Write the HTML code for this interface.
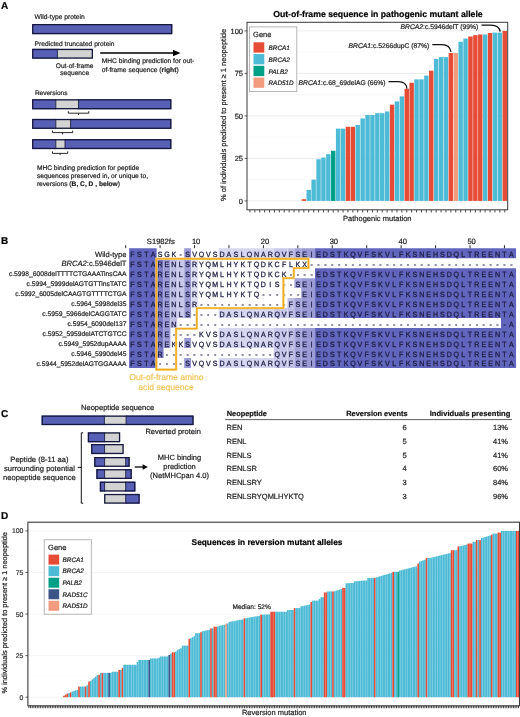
<!DOCTYPE html>
<html lang="en"><head><meta charset="utf-8"><title>Figure</title>
<style>
html,body{margin:0;padding:0;background:#fff}
body{width:520px;height:717px;overflow:hidden}
svg{display:block;text-rendering:geometricPrecision;font-family:"Liberation Sans",sans-serif;fill:#222}
svg rect,svg path,svg line{fill-opacity:1}
</style></head><body>
<svg width="520" height="717" viewBox="0 0 520 717">
<rect x="0" y="0" width="520" height="717" fill="#fff"/>
<text x="1.00" y="9.00" font-size="10" font-weight="bold" fill="#000" stroke="#000" stroke-width="0.2">A</text>
<text x="34.60" y="19.20" font-size="6.68" stroke="#222" stroke-width="0.2">Wild-type protein</text>
<rect x="32.10" y="24.00" width="140.20" height="10.20" fill="#5860b6"/>
<rect x="32.75" y="24.65" width="138.90" height="8.90" fill="none" stroke="#15183c" stroke-width="1.3"/>
<text x="34.60" y="45.80" font-size="6.66" stroke="#222" stroke-width="0.2">Predicted truncated protein</text>
<rect x="32.10" y="48.80" width="25.30" height="9.90" fill="#5860b6"/>
<rect x="57.40" y="48.80" width="35.60" height="9.90" fill="#d3d3d3"/>
<line x1="57.40" y1="48.80" x2="57.40" y2="58.70" stroke="#15183c" stroke-width="0.9"/>
<rect x="32.75" y="49.45" width="59.60" height="8.60" fill="none" stroke="#15183c" stroke-width="1.3"/>
<text x="74.60" y="67.60" font-size="6.65" text-anchor="middle" stroke="#222" stroke-width="0.2">Out-of-frame</text>
<text x="74.70" y="75.30" font-size="6.65" text-anchor="middle" stroke="#222" stroke-width="0.2">sequence</text>
<path d="M100.2 53 H175" stroke="#000" stroke-width="1.4" fill="none"/>
<path d="M180.5 53 L173 49.8 L173 56.2 Z" fill="#000"/>
<text x="101.70" y="63.40" font-size="6.7" stroke="#222" stroke-width="0.2">MHC binding prediction for out-</text>
<text x="101.70" y="71.90" font-size="6.7" stroke="#222" stroke-width="0.2">of-frame sequence (<tspan font-weight="bold">right</tspan>)</text>
<text x="34.90" y="94.80" font-size="6.5" stroke="#222" stroke-width="0.2">Reversions</text>
<rect x="32.10" y="99.20" width="23.70" height="10.10" fill="#5860b6"/>
<rect x="55.80" y="99.20" width="22.70" height="10.10" fill="#d3d3d3"/>
<rect x="78.50" y="99.20" width="92.90" height="10.10" fill="#5860b6"/>
<line x1="55.80" y1="99.20" x2="55.80" y2="109.30" stroke="#15183c" stroke-width="0.9"/>
<line x1="78.50" y1="99.20" x2="78.50" y2="109.30" stroke="#15183c" stroke-width="0.9"/>
<rect x="32.75" y="99.85" width="138.00" height="8.80" fill="none" stroke="#15183c" stroke-width="1.3"/>
<path d="M68.30 111.20 v2.00 H88.80 v-2.00 M78.55 113.20 v1.8" fill="none" stroke="#111" stroke-width="0.9"/>
<rect x="32.10" y="118.90" width="23.70" height="10.00" fill="#5860b6"/>
<rect x="55.80" y="118.90" width="14.80" height="10.00" fill="#d3d3d3"/>
<rect x="70.60" y="118.90" width="100.80" height="10.00" fill="#5860b6"/>
<line x1="55.80" y1="118.90" x2="55.80" y2="128.90" stroke="#15183c" stroke-width="0.9"/>
<line x1="70.60" y1="118.90" x2="70.60" y2="128.90" stroke="#15183c" stroke-width="0.9"/>
<rect x="32.75" y="119.55" width="138.00" height="8.70" fill="none" stroke="#15183c" stroke-width="1.3"/>
<path d="M52.50 130.60 v2.00 H72.70 v-2.00 M62.60 132.60 v1.8" fill="none" stroke="#111" stroke-width="0.9"/>
<rect x="32.10" y="139.10" width="23.70" height="10.00" fill="#5860b6"/>
<rect x="55.80" y="139.10" width="9.20" height="10.00" fill="#d3d3d3"/>
<rect x="65.00" y="139.10" width="106.40" height="10.00" fill="#5860b6"/>
<line x1="55.80" y1="139.10" x2="55.80" y2="149.10" stroke="#15183c" stroke-width="0.9"/>
<line x1="65.00" y1="139.10" x2="65.00" y2="149.10" stroke="#15183c" stroke-width="0.9"/>
<rect x="32.75" y="139.75" width="138.00" height="8.70" fill="none" stroke="#15183c" stroke-width="1.3"/>
<path d="M52.50 151.40 v2.00 H67.70 v-2.00 M60.10 153.40 v1.8" fill="none" stroke="#111" stroke-width="0.9"/>
<text x="36.90" y="170.00" font-size="6.65" stroke="#222" stroke-width="0.2">MHC binding prediction for peptide</text>
<text x="36.90" y="178.10" font-size="6.65" stroke="#222" stroke-width="0.2">sequences preserved in, or unique to,</text>
<text x="36.90" y="186.00" font-size="6.65" stroke="#222" stroke-width="0.2">reversions (<tspan font-weight="bold">B, C, D , below</tspan>)</text>
<rect x="247.00" y="22.30" width="260.70" height="187.50" fill="#fff"/>
<line x1="247.0" x2="507.7" y1="179.65" y2="179.65" stroke="#f2f2f2" stroke-width="0.5"/>
<line x1="247.0" x2="507.7" y1="137.15" y2="137.15" stroke="#f2f2f2" stroke-width="0.5"/>
<line x1="247.0" x2="507.7" y1="94.65" y2="94.65" stroke="#f2f2f2" stroke-width="0.5"/>
<line x1="247.0" x2="507.7" y1="52.15" y2="52.15" stroke="#f2f2f2" stroke-width="0.5"/>
<line x1="247.0" x2="507.7" y1="200.90" y2="200.90" stroke="#e6e6e6" stroke-width="0.8"/>
<line x1="247.0" x2="507.7" y1="158.40" y2="158.40" stroke="#e6e6e6" stroke-width="0.8"/>
<line x1="247.0" x2="507.7" y1="115.90" y2="115.90" stroke="#e6e6e6" stroke-width="0.8"/>
<line x1="247.0" x2="507.7" y1="73.40" y2="73.40" stroke="#e6e6e6" stroke-width="0.8"/>
<line x1="247.0" x2="507.7" y1="30.90" y2="30.90" stroke="#e6e6e6" stroke-width="0.8"/>
<line x1="249.94" x2="249.94" y1="209.8" y2="212.5" stroke="#222" stroke-width="0.8"/>
<line x1="254.84" x2="254.84" y1="209.8" y2="212.5" stroke="#222" stroke-width="0.8"/>
<line x1="259.74" x2="259.74" y1="209.8" y2="212.5" stroke="#222" stroke-width="0.8"/>
<line x1="264.64" x2="264.64" y1="209.8" y2="212.5" stroke="#222" stroke-width="0.8"/>
<line x1="269.54" x2="269.54" y1="209.8" y2="212.5" stroke="#222" stroke-width="0.8"/>
<line x1="274.44" x2="274.44" y1="209.8" y2="212.5" stroke="#222" stroke-width="0.8"/>
<line x1="279.34" x2="279.34" y1="209.8" y2="212.5" stroke="#222" stroke-width="0.8"/>
<line x1="284.24" x2="284.24" y1="209.8" y2="212.5" stroke="#222" stroke-width="0.8"/>
<line x1="289.14" x2="289.14" y1="209.8" y2="212.5" stroke="#222" stroke-width="0.8"/>
<line x1="294.04" x2="294.04" y1="209.8" y2="212.5" stroke="#222" stroke-width="0.8"/>
<line x1="298.94" x2="298.94" y1="209.8" y2="212.5" stroke="#222" stroke-width="0.8"/>
<line x1="303.84" x2="303.84" y1="209.8" y2="212.5" stroke="#222" stroke-width="0.8"/>
<rect x="301.64" y="199.20" width="4.41" height="1.70" fill="#E64B35"/>
<line x1="308.74" x2="308.74" y1="209.8" y2="212.5" stroke="#222" stroke-width="0.8"/>
<rect x="306.54" y="189.85" width="4.41" height="11.05" fill="#4DBBD5"/>
<line x1="313.65" x2="313.65" y1="209.8" y2="212.5" stroke="#222" stroke-width="0.8"/>
<rect x="311.44" y="179.65" width="4.41" height="21.25" fill="#4DBBD5"/>
<line x1="318.55" x2="318.55" y1="209.8" y2="212.5" stroke="#222" stroke-width="0.8"/>
<rect x="316.34" y="159.25" width="4.41" height="41.65" fill="#4DBBD5"/>
<line x1="323.45" x2="323.45" y1="209.8" y2="212.5" stroke="#222" stroke-width="0.8"/>
<rect x="321.24" y="157.55" width="4.41" height="43.35" fill="#4DBBD5"/>
<line x1="328.35" x2="328.35" y1="209.8" y2="212.5" stroke="#222" stroke-width="0.8"/>
<rect x="326.14" y="154.15" width="4.41" height="46.75" fill="#4DBBD5"/>
<line x1="333.25" x2="333.25" y1="209.8" y2="212.5" stroke="#222" stroke-width="0.8"/>
<rect x="331.04" y="150.75" width="4.41" height="50.15" fill="#00A087"/>
<line x1="338.15" x2="338.15" y1="209.8" y2="212.5" stroke="#222" stroke-width="0.8"/>
<rect x="335.94" y="128.65" width="4.41" height="72.25" fill="#4DBBD5"/>
<line x1="343.05" x2="343.05" y1="209.8" y2="212.5" stroke="#222" stroke-width="0.8"/>
<rect x="340.84" y="128.65" width="4.41" height="72.25" fill="#4DBBD5"/>
<line x1="347.95" x2="347.95" y1="209.8" y2="212.5" stroke="#222" stroke-width="0.8"/>
<rect x="345.74" y="126.78" width="4.41" height="74.12" fill="#E64B35"/>
<line x1="352.85" x2="352.85" y1="209.8" y2="212.5" stroke="#222" stroke-width="0.8"/>
<rect x="350.64" y="126.78" width="4.41" height="74.12" fill="#E64B35"/>
<line x1="357.75" x2="357.75" y1="209.8" y2="212.5" stroke="#222" stroke-width="0.8"/>
<rect x="355.54" y="124.91" width="4.41" height="75.99" fill="#4DBBD5"/>
<line x1="362.65" x2="362.65" y1="209.8" y2="212.5" stroke="#222" stroke-width="0.8"/>
<rect x="360.44" y="118.45" width="4.41" height="82.45" fill="#4DBBD5"/>
<line x1="367.55" x2="367.55" y1="209.8" y2="212.5" stroke="#222" stroke-width="0.8"/>
<rect x="365.34" y="115.05" width="4.41" height="85.85" fill="#4DBBD5"/>
<line x1="372.45" x2="372.45" y1="209.8" y2="212.5" stroke="#222" stroke-width="0.8"/>
<rect x="370.24" y="115.05" width="4.41" height="85.85" fill="#4DBBD5"/>
<line x1="377.35" x2="377.35" y1="209.8" y2="212.5" stroke="#222" stroke-width="0.8"/>
<rect x="375.14" y="113.18" width="4.41" height="87.72" fill="#4DBBD5"/>
<line x1="382.25" x2="382.25" y1="209.8" y2="212.5" stroke="#222" stroke-width="0.8"/>
<rect x="380.05" y="113.18" width="4.41" height="87.72" fill="#4DBBD5"/>
<line x1="387.15" x2="387.15" y1="209.8" y2="212.5" stroke="#222" stroke-width="0.8"/>
<rect x="384.95" y="111.48" width="4.41" height="89.42" fill="#4DBBD5"/>
<line x1="392.05" x2="392.05" y1="209.8" y2="212.5" stroke="#222" stroke-width="0.8"/>
<rect x="389.85" y="104.68" width="4.41" height="96.22" fill="#E64B35"/>
<line x1="396.95" x2="396.95" y1="209.8" y2="212.5" stroke="#222" stroke-width="0.8"/>
<rect x="394.75" y="101.45" width="4.41" height="99.45" fill="#4DBBD5"/>
<line x1="401.85" x2="401.85" y1="209.8" y2="212.5" stroke="#222" stroke-width="0.8"/>
<rect x="399.65" y="96.35" width="4.41" height="104.55" fill="#4DBBD5"/>
<line x1="406.75" x2="406.75" y1="209.8" y2="212.5" stroke="#222" stroke-width="0.8"/>
<rect x="404.55" y="88.70" width="4.41" height="112.20" fill="#E64B35"/>
<line x1="411.65" x2="411.65" y1="209.8" y2="212.5" stroke="#222" stroke-width="0.8"/>
<rect x="409.45" y="82.75" width="4.41" height="118.15" fill="#E64B35"/>
<line x1="416.55" x2="416.55" y1="209.8" y2="212.5" stroke="#222" stroke-width="0.8"/>
<rect x="414.35" y="79.35" width="4.41" height="121.55" fill="#4DBBD5"/>
<line x1="421.45" x2="421.45" y1="209.8" y2="212.5" stroke="#222" stroke-width="0.8"/>
<rect x="419.25" y="79.35" width="4.41" height="121.55" fill="#4DBBD5"/>
<line x1="426.35" x2="426.35" y1="209.8" y2="212.5" stroke="#222" stroke-width="0.8"/>
<rect x="424.15" y="75.61" width="4.41" height="125.29" fill="#4DBBD5"/>
<line x1="431.25" x2="431.25" y1="209.8" y2="212.5" stroke="#222" stroke-width="0.8"/>
<rect x="429.05" y="70.68" width="4.41" height="130.22" fill="#E64B35"/>
<line x1="436.15" x2="436.15" y1="209.8" y2="212.5" stroke="#222" stroke-width="0.8"/>
<rect x="433.95" y="58.95" width="4.41" height="141.95" fill="#4DBBD5"/>
<line x1="441.05" x2="441.05" y1="209.8" y2="212.5" stroke="#222" stroke-width="0.8"/>
<rect x="438.85" y="57.08" width="4.41" height="143.82" fill="#4DBBD5"/>
<line x1="445.96" x2="445.96" y1="209.8" y2="212.5" stroke="#222" stroke-width="0.8"/>
<rect x="443.75" y="57.08" width="4.41" height="143.82" fill="#4DBBD5"/>
<line x1="450.86" x2="450.86" y1="209.8" y2="212.5" stroke="#222" stroke-width="0.8"/>
<rect x="448.65" y="53.00" width="4.41" height="147.90" fill="#E64B35"/>
<line x1="455.76" x2="455.76" y1="209.8" y2="212.5" stroke="#222" stroke-width="0.8"/>
<rect x="453.55" y="53.00" width="4.41" height="147.90" fill="#F39B7F"/>
<line x1="460.66" x2="460.66" y1="209.8" y2="212.5" stroke="#222" stroke-width="0.8"/>
<rect x="458.45" y="41.78" width="4.41" height="159.12" fill="#4DBBD5"/>
<line x1="465.56" x2="465.56" y1="209.8" y2="212.5" stroke="#222" stroke-width="0.8"/>
<rect x="463.35" y="38.55" width="4.41" height="162.35" fill="#4DBBD5"/>
<line x1="470.46" x2="470.46" y1="209.8" y2="212.5" stroke="#222" stroke-width="0.8"/>
<rect x="468.25" y="36.51" width="4.41" height="164.39" fill="#E64B35"/>
<line x1="475.36" x2="475.36" y1="209.8" y2="212.5" stroke="#222" stroke-width="0.8"/>
<rect x="473.15" y="35.15" width="4.41" height="165.75" fill="#E64B35"/>
<line x1="480.26" x2="480.26" y1="209.8" y2="212.5" stroke="#222" stroke-width="0.8"/>
<rect x="478.05" y="34.47" width="4.41" height="166.43" fill="#E64B35"/>
<line x1="485.16" x2="485.16" y1="209.8" y2="212.5" stroke="#222" stroke-width="0.8"/>
<rect x="482.95" y="34.47" width="4.41" height="166.43" fill="#4DBBD5"/>
<line x1="490.06" x2="490.06" y1="209.8" y2="212.5" stroke="#222" stroke-width="0.8"/>
<rect x="487.85" y="32.94" width="4.41" height="167.96" fill="#E64B35"/>
<line x1="494.96" x2="494.96" y1="209.8" y2="212.5" stroke="#222" stroke-width="0.8"/>
<rect x="492.75" y="32.60" width="4.41" height="168.30" fill="#4DBBD5"/>
<line x1="499.86" x2="499.86" y1="209.8" y2="212.5" stroke="#222" stroke-width="0.8"/>
<rect x="497.65" y="32.60" width="4.41" height="168.30" fill="#4DBBD5"/>
<line x1="504.76" x2="504.76" y1="209.8" y2="212.5" stroke="#222" stroke-width="0.8"/>
<rect x="502.55" y="30.90" width="4.41" height="170.00" fill="#E64B35"/>
<rect x="247.00" y="22.30" width="260.70" height="187.50" fill="none" stroke="#383838" stroke-width="1.0"/>
<line x1="244.6" x2="247.0" y1="200.90" y2="200.90" stroke="#333" stroke-width="0.8"/>
<text x="243.00" y="203.60" font-size="7.5" text-anchor="end" stroke="#222" stroke-width="0.2">0</text>
<line x1="244.6" x2="247.0" y1="158.40" y2="158.40" stroke="#333" stroke-width="0.8"/>
<text x="243.00" y="161.10" font-size="7.5" text-anchor="end" stroke="#222" stroke-width="0.2">25</text>
<line x1="244.6" x2="247.0" y1="115.90" y2="115.90" stroke="#333" stroke-width="0.8"/>
<text x="243.00" y="118.60" font-size="7.5" text-anchor="end" stroke="#222" stroke-width="0.2">50</text>
<line x1="244.6" x2="247.0" y1="73.40" y2="73.40" stroke="#333" stroke-width="0.8"/>
<text x="243.00" y="76.10" font-size="7.5" text-anchor="end" stroke="#222" stroke-width="0.2">75</text>
<line x1="244.6" x2="247.0" y1="30.90" y2="30.90" stroke="#333" stroke-width="0.8"/>
<text x="243.00" y="33.60" font-size="7.5" text-anchor="end" stroke="#222" stroke-width="0.2">100</text>
<text x="377.90" y="16.60" font-size="8.7" text-anchor="middle" font-weight="bold" fill="#000" stroke="#000" stroke-width="0.2">Out-of-frame sequence in pathogenic mutant allele</text>
<text x="377.30" y="220.60" font-size="7.5" text-anchor="middle" stroke="#222" stroke-width="0.2">Pathogenic mutation</text>
<text transform="translate(226.4 114.9) rotate(-90)" text-anchor="middle" font-size="7.5" stroke="#222" stroke-width="0.2">% of individuals predicted to present ≥ 1 neopeptide</text>
<rect x="249.50" y="26.90" width="47.30" height="64.70" fill="#fff" stroke="#a6a6a6" stroke-width="0.8"/>
<text x="253.10" y="37.20" font-size="7.5" stroke="#222" stroke-width="0.2">Gene</text>
<rect x="253.50" y="42.30" width="10.80" height="10.30" fill="#E64B35"/>
<text x="268.50" y="50.00" font-size="6.4" font-style="italic" stroke="#222" stroke-width="0.2">BRCA1</text>
<rect x="253.50" y="54.05" width="10.80" height="10.30" fill="#4DBBD5"/>
<text x="268.50" y="61.75" font-size="6.4" font-style="italic" stroke="#222" stroke-width="0.2">BRCA2</text>
<rect x="253.50" y="65.80" width="10.80" height="10.30" fill="#00A087"/>
<text x="268.50" y="73.50" font-size="6.4" font-style="italic" stroke="#222" stroke-width="0.2">PALB2</text>
<rect x="253.50" y="77.55" width="10.80" height="10.30" fill="#F39B7F"/>
<text x="268.50" y="85.25" font-size="6.4" font-style="italic" stroke="#222" stroke-width="0.2">RAD51D</text>
<text x="298.50" y="84.80" font-size="6.75" stroke="#222" stroke-width="0.2"><tspan font-style="italic">BRCA1</tspan>:c.68_69delAG (66%)</text>
<path d="M388.5 81.6 H398.5 Q406.3 81.6 407 88.6" fill="none" stroke="#111" stroke-width="1.25"/>
<text x="348.60" y="48.00" font-size="6.75" stroke="#222" stroke-width="0.2"><tspan font-style="italic">BRCA1</tspan>:c.5266dupC (87%)</text>
<path d="M432.3 44.6 H442 Q450 44.6 451 52" fill="none" stroke="#111" stroke-width="1.25"/>
<text x="400.60" y="28.90" font-size="6.75" stroke="#222" stroke-width="0.2"><tspan font-style="italic">BRCA2</tspan>:c.5946delT (99%)</text>
<path d="M481.5 25 H491 Q499.2 25 500.2 31.6" fill="none" stroke="#111" stroke-width="1.25"/>
<text x="1.00" y="244.40" font-size="10" font-weight="bold" fill="#000" stroke="#000" stroke-width="0.2">B</text>
<path d="M129.10 248.20h6.887v9.98h-6.887zM129.10 258.18h6.887v9.98h-6.887zM129.10 268.16h6.887v9.98h-6.887zM129.10 278.14h6.887v9.98h-6.887zM129.10 288.12h6.887v9.98h-6.887zM129.10 298.10h6.887v9.98h-6.887zM129.10 308.08h6.887v9.98h-6.887zM129.10 318.06h6.887v9.98h-6.887zM129.10 328.04h6.887v9.98h-6.887zM129.10 338.02h6.887v9.98h-6.887zM129.10 348.00h6.887v9.98h-6.887zM129.10 357.98h6.887v9.98h-6.887zM135.99 248.20h6.887v9.98h-6.887zM135.99 258.18h6.887v9.98h-6.887zM135.99 268.16h6.887v9.98h-6.887zM135.99 278.14h6.887v9.98h-6.887zM135.99 288.12h6.887v9.98h-6.887zM135.99 298.10h6.887v9.98h-6.887zM135.99 308.08h6.887v9.98h-6.887zM135.99 318.06h6.887v9.98h-6.887zM135.99 328.04h6.887v9.98h-6.887zM135.99 338.02h6.887v9.98h-6.887zM135.99 348.00h6.887v9.98h-6.887zM135.99 357.98h6.887v9.98h-6.887zM142.87 248.20h6.887v9.98h-6.887zM142.87 258.18h6.887v9.98h-6.887zM142.87 268.16h6.887v9.98h-6.887zM142.87 278.14h6.887v9.98h-6.887zM142.87 288.12h6.887v9.98h-6.887zM142.87 298.10h6.887v9.98h-6.887zM142.87 308.08h6.887v9.98h-6.887zM142.87 318.06h6.887v9.98h-6.887zM142.87 328.04h6.887v9.98h-6.887zM142.87 338.02h6.887v9.98h-6.887zM142.87 348.00h6.887v9.98h-6.887zM142.87 357.98h6.887v9.98h-6.887zM149.76 248.20h6.887v9.98h-6.887zM149.76 258.18h6.887v9.98h-6.887zM149.76 268.16h6.887v9.98h-6.887zM149.76 278.14h6.887v9.98h-6.887zM149.76 288.12h6.887v9.98h-6.887zM149.76 298.10h6.887v9.98h-6.887zM149.76 308.08h6.887v9.98h-6.887zM149.76 318.06h6.887v9.98h-6.887zM149.76 328.04h6.887v9.98h-6.887zM149.76 338.02h6.887v9.98h-6.887zM149.76 348.00h6.887v9.98h-6.887zM149.76 357.98h6.887v9.98h-6.887zM315.05 248.20h6.887v9.98h-6.887zM315.05 268.16h6.887v9.98h-6.887zM315.05 278.14h6.887v9.98h-6.887zM315.05 288.12h6.887v9.98h-6.887zM315.05 298.10h6.887v9.98h-6.887zM315.05 308.08h6.887v9.98h-6.887zM315.05 328.04h6.887v9.98h-6.887zM315.05 338.02h6.887v9.98h-6.887zM315.05 348.00h6.887v9.98h-6.887zM315.05 357.98h6.887v9.98h-6.887zM321.94 248.20h6.887v9.98h-6.887zM321.94 268.16h6.887v9.98h-6.887zM321.94 278.14h6.887v9.98h-6.887zM321.94 288.12h6.887v9.98h-6.887zM321.94 298.10h6.887v9.98h-6.887zM321.94 308.08h6.887v9.98h-6.887zM321.94 328.04h6.887v9.98h-6.887zM321.94 338.02h6.887v9.98h-6.887zM321.94 348.00h6.887v9.98h-6.887zM321.94 357.98h6.887v9.98h-6.887zM328.82 248.20h6.887v9.98h-6.887zM328.82 268.16h6.887v9.98h-6.887zM328.82 278.14h6.887v9.98h-6.887zM328.82 288.12h6.887v9.98h-6.887zM328.82 298.10h6.887v9.98h-6.887zM328.82 308.08h6.887v9.98h-6.887zM328.82 328.04h6.887v9.98h-6.887zM328.82 338.02h6.887v9.98h-6.887zM328.82 348.00h6.887v9.98h-6.887zM328.82 357.98h6.887v9.98h-6.887zM335.71 248.20h6.887v9.98h-6.887zM335.71 268.16h6.887v9.98h-6.887zM335.71 278.14h6.887v9.98h-6.887zM335.71 288.12h6.887v9.98h-6.887zM335.71 298.10h6.887v9.98h-6.887zM335.71 308.08h6.887v9.98h-6.887zM335.71 328.04h6.887v9.98h-6.887zM335.71 338.02h6.887v9.98h-6.887zM335.71 348.00h6.887v9.98h-6.887zM335.71 357.98h6.887v9.98h-6.887zM342.60 248.20h6.887v9.98h-6.887zM342.60 268.16h6.887v9.98h-6.887zM342.60 278.14h6.887v9.98h-6.887zM342.60 288.12h6.887v9.98h-6.887zM342.60 298.10h6.887v9.98h-6.887zM342.60 308.08h6.887v9.98h-6.887zM342.60 328.04h6.887v9.98h-6.887zM342.60 338.02h6.887v9.98h-6.887zM342.60 348.00h6.887v9.98h-6.887zM342.60 357.98h6.887v9.98h-6.887zM349.48 248.20h6.887v9.98h-6.887zM349.48 268.16h6.887v9.98h-6.887zM349.48 278.14h6.887v9.98h-6.887zM349.48 288.12h6.887v9.98h-6.887zM349.48 298.10h6.887v9.98h-6.887zM349.48 308.08h6.887v9.98h-6.887zM349.48 328.04h6.887v9.98h-6.887zM349.48 338.02h6.887v9.98h-6.887zM349.48 348.00h6.887v9.98h-6.887zM349.48 357.98h6.887v9.98h-6.887zM356.37 248.20h6.887v9.98h-6.887zM356.37 268.16h6.887v9.98h-6.887zM356.37 278.14h6.887v9.98h-6.887zM356.37 288.12h6.887v9.98h-6.887zM356.37 298.10h6.887v9.98h-6.887zM356.37 308.08h6.887v9.98h-6.887zM356.37 328.04h6.887v9.98h-6.887zM356.37 338.02h6.887v9.98h-6.887zM356.37 348.00h6.887v9.98h-6.887zM356.37 357.98h6.887v9.98h-6.887zM363.26 248.20h6.887v9.98h-6.887zM363.26 268.16h6.887v9.98h-6.887zM363.26 278.14h6.887v9.98h-6.887zM363.26 288.12h6.887v9.98h-6.887zM363.26 298.10h6.887v9.98h-6.887zM363.26 308.08h6.887v9.98h-6.887zM363.26 328.04h6.887v9.98h-6.887zM363.26 338.02h6.887v9.98h-6.887zM363.26 348.00h6.887v9.98h-6.887zM363.26 357.98h6.887v9.98h-6.887zM370.14 248.20h6.887v9.98h-6.887zM370.14 268.16h6.887v9.98h-6.887zM370.14 278.14h6.887v9.98h-6.887zM370.14 288.12h6.887v9.98h-6.887zM370.14 298.10h6.887v9.98h-6.887zM370.14 308.08h6.887v9.98h-6.887zM370.14 328.04h6.887v9.98h-6.887zM370.14 338.02h6.887v9.98h-6.887zM370.14 348.00h6.887v9.98h-6.887zM370.14 357.98h6.887v9.98h-6.887zM377.03 248.20h6.887v9.98h-6.887zM377.03 268.16h6.887v9.98h-6.887zM377.03 278.14h6.887v9.98h-6.887zM377.03 288.12h6.887v9.98h-6.887zM377.03 298.10h6.887v9.98h-6.887zM377.03 308.08h6.887v9.98h-6.887zM377.03 328.04h6.887v9.98h-6.887zM377.03 338.02h6.887v9.98h-6.887zM377.03 348.00h6.887v9.98h-6.887zM377.03 357.98h6.887v9.98h-6.887zM383.92 248.20h6.887v9.98h-6.887zM383.92 268.16h6.887v9.98h-6.887zM383.92 278.14h6.887v9.98h-6.887zM383.92 288.12h6.887v9.98h-6.887zM383.92 298.10h6.887v9.98h-6.887zM383.92 308.08h6.887v9.98h-6.887zM383.92 328.04h6.887v9.98h-6.887zM383.92 338.02h6.887v9.98h-6.887zM383.92 348.00h6.887v9.98h-6.887zM383.92 357.98h6.887v9.98h-6.887zM390.81 248.20h6.887v9.98h-6.887zM390.81 268.16h6.887v9.98h-6.887zM390.81 278.14h6.887v9.98h-6.887zM390.81 288.12h6.887v9.98h-6.887zM390.81 298.10h6.887v9.98h-6.887zM390.81 308.08h6.887v9.98h-6.887zM390.81 328.04h6.887v9.98h-6.887zM390.81 338.02h6.887v9.98h-6.887zM390.81 348.00h6.887v9.98h-6.887zM390.81 357.98h6.887v9.98h-6.887zM397.69 248.20h6.887v9.98h-6.887zM397.69 268.16h6.887v9.98h-6.887zM397.69 278.14h6.887v9.98h-6.887zM397.69 288.12h6.887v9.98h-6.887zM397.69 298.10h6.887v9.98h-6.887zM397.69 308.08h6.887v9.98h-6.887zM397.69 328.04h6.887v9.98h-6.887zM397.69 338.02h6.887v9.98h-6.887zM397.69 348.00h6.887v9.98h-6.887zM397.69 357.98h6.887v9.98h-6.887zM404.58 248.20h6.887v9.98h-6.887zM404.58 268.16h6.887v9.98h-6.887zM404.58 278.14h6.887v9.98h-6.887zM404.58 288.12h6.887v9.98h-6.887zM404.58 298.10h6.887v9.98h-6.887zM404.58 308.08h6.887v9.98h-6.887zM404.58 328.04h6.887v9.98h-6.887zM404.58 338.02h6.887v9.98h-6.887zM404.58 348.00h6.887v9.98h-6.887zM404.58 357.98h6.887v9.98h-6.887zM411.47 248.20h6.887v9.98h-6.887zM411.47 268.16h6.887v9.98h-6.887zM411.47 278.14h6.887v9.98h-6.887zM411.47 288.12h6.887v9.98h-6.887zM411.47 298.10h6.887v9.98h-6.887zM411.47 308.08h6.887v9.98h-6.887zM411.47 328.04h6.887v9.98h-6.887zM411.47 338.02h6.887v9.98h-6.887zM411.47 348.00h6.887v9.98h-6.887zM411.47 357.98h6.887v9.98h-6.887zM418.35 248.20h6.887v9.98h-6.887zM418.35 268.16h6.887v9.98h-6.887zM418.35 278.14h6.887v9.98h-6.887zM418.35 288.12h6.887v9.98h-6.887zM418.35 298.10h6.887v9.98h-6.887zM418.35 308.08h6.887v9.98h-6.887zM418.35 328.04h6.887v9.98h-6.887zM418.35 338.02h6.887v9.98h-6.887zM418.35 348.00h6.887v9.98h-6.887zM418.35 357.98h6.887v9.98h-6.887zM425.24 248.20h6.887v9.98h-6.887zM425.24 268.16h6.887v9.98h-6.887zM425.24 278.14h6.887v9.98h-6.887zM425.24 288.12h6.887v9.98h-6.887zM425.24 298.10h6.887v9.98h-6.887zM425.24 308.08h6.887v9.98h-6.887zM425.24 328.04h6.887v9.98h-6.887zM425.24 338.02h6.887v9.98h-6.887zM425.24 348.00h6.887v9.98h-6.887zM425.24 357.98h6.887v9.98h-6.887zM432.13 248.20h6.887v9.98h-6.887zM432.13 268.16h6.887v9.98h-6.887zM432.13 278.14h6.887v9.98h-6.887zM432.13 288.12h6.887v9.98h-6.887zM432.13 298.10h6.887v9.98h-6.887zM432.13 308.08h6.887v9.98h-6.887zM432.13 328.04h6.887v9.98h-6.887zM432.13 338.02h6.887v9.98h-6.887zM432.13 348.00h6.887v9.98h-6.887zM432.13 357.98h6.887v9.98h-6.887zM439.01 248.20h6.887v9.98h-6.887zM439.01 268.16h6.887v9.98h-6.887zM439.01 278.14h6.887v9.98h-6.887zM439.01 288.12h6.887v9.98h-6.887zM439.01 298.10h6.887v9.98h-6.887zM439.01 308.08h6.887v9.98h-6.887zM439.01 328.04h6.887v9.98h-6.887zM439.01 338.02h6.887v9.98h-6.887zM439.01 348.00h6.887v9.98h-6.887zM439.01 357.98h6.887v9.98h-6.887zM445.90 248.20h6.887v9.98h-6.887zM445.90 268.16h6.887v9.98h-6.887zM445.90 278.14h6.887v9.98h-6.887zM445.90 288.12h6.887v9.98h-6.887zM445.90 298.10h6.887v9.98h-6.887zM445.90 308.08h6.887v9.98h-6.887zM445.90 328.04h6.887v9.98h-6.887zM445.90 338.02h6.887v9.98h-6.887zM445.90 348.00h6.887v9.98h-6.887zM445.90 357.98h6.887v9.98h-6.887zM452.79 248.20h6.887v9.98h-6.887zM452.79 268.16h6.887v9.98h-6.887zM452.79 278.14h6.887v9.98h-6.887zM452.79 288.12h6.887v9.98h-6.887zM452.79 298.10h6.887v9.98h-6.887zM452.79 308.08h6.887v9.98h-6.887zM452.79 328.04h6.887v9.98h-6.887zM452.79 338.02h6.887v9.98h-6.887zM452.79 348.00h6.887v9.98h-6.887zM452.79 357.98h6.887v9.98h-6.887zM459.68 248.20h6.887v9.98h-6.887zM459.68 268.16h6.887v9.98h-6.887zM459.68 278.14h6.887v9.98h-6.887zM459.68 288.12h6.887v9.98h-6.887zM459.68 298.10h6.887v9.98h-6.887zM459.68 308.08h6.887v9.98h-6.887zM459.68 328.04h6.887v9.98h-6.887zM459.68 338.02h6.887v9.98h-6.887zM459.68 348.00h6.887v9.98h-6.887zM459.68 357.98h6.887v9.98h-6.887zM466.56 248.20h6.887v9.98h-6.887zM466.56 268.16h6.887v9.98h-6.887zM466.56 278.14h6.887v9.98h-6.887zM466.56 288.12h6.887v9.98h-6.887zM466.56 298.10h6.887v9.98h-6.887zM466.56 308.08h6.887v9.98h-6.887zM466.56 328.04h6.887v9.98h-6.887zM466.56 338.02h6.887v9.98h-6.887zM466.56 348.00h6.887v9.98h-6.887zM466.56 357.98h6.887v9.98h-6.887zM473.45 248.20h6.887v9.98h-6.887zM473.45 268.16h6.887v9.98h-6.887zM473.45 278.14h6.887v9.98h-6.887zM473.45 288.12h6.887v9.98h-6.887zM473.45 298.10h6.887v9.98h-6.887zM473.45 308.08h6.887v9.98h-6.887zM473.45 328.04h6.887v9.98h-6.887zM473.45 338.02h6.887v9.98h-6.887zM473.45 348.00h6.887v9.98h-6.887zM473.45 357.98h6.887v9.98h-6.887zM480.34 248.20h6.887v9.98h-6.887zM480.34 268.16h6.887v9.98h-6.887zM480.34 278.14h6.887v9.98h-6.887zM480.34 288.12h6.887v9.98h-6.887zM480.34 298.10h6.887v9.98h-6.887zM480.34 308.08h6.887v9.98h-6.887zM480.34 328.04h6.887v9.98h-6.887zM480.34 338.02h6.887v9.98h-6.887zM480.34 348.00h6.887v9.98h-6.887zM480.34 357.98h6.887v9.98h-6.887zM487.22 248.20h6.887v9.98h-6.887zM487.22 268.16h6.887v9.98h-6.887zM487.22 278.14h6.887v9.98h-6.887zM487.22 288.12h6.887v9.98h-6.887zM487.22 298.10h6.887v9.98h-6.887zM487.22 308.08h6.887v9.98h-6.887zM487.22 328.04h6.887v9.98h-6.887zM487.22 338.02h6.887v9.98h-6.887zM487.22 348.00h6.887v9.98h-6.887zM487.22 357.98h6.887v9.98h-6.887zM494.11 248.20h6.887v9.98h-6.887zM494.11 268.16h6.887v9.98h-6.887zM494.11 278.14h6.887v9.98h-6.887zM494.11 288.12h6.887v9.98h-6.887zM494.11 298.10h6.887v9.98h-6.887zM494.11 308.08h6.887v9.98h-6.887zM494.11 328.04h6.887v9.98h-6.887zM494.11 338.02h6.887v9.98h-6.887zM494.11 348.00h6.887v9.98h-6.887zM494.11 357.98h6.887v9.98h-6.887zM501.00 248.20h6.887v9.98h-6.887zM501.00 268.16h6.887v9.98h-6.887zM501.00 278.14h6.887v9.98h-6.887zM501.00 288.12h6.887v9.98h-6.887zM501.00 298.10h6.887v9.98h-6.887zM501.00 308.08h6.887v9.98h-6.887zM501.00 328.04h6.887v9.98h-6.887zM501.00 338.02h6.887v9.98h-6.887zM501.00 348.00h6.887v9.98h-6.887zM501.00 357.98h6.887v9.98h-6.887zM507.88 248.20h8.187v9.98h-8.187zM507.88 268.16h8.187v9.98h-8.187zM507.88 278.14h8.187v9.98h-8.187zM507.88 288.12h8.187v9.98h-8.187zM507.88 298.10h8.187v9.98h-8.187zM507.88 308.08h8.187v9.98h-8.187zM507.88 318.06h8.187v9.98h-8.187zM501.00 318.06h6.887v9.98h-6.887zM507.88 328.04h8.187v9.98h-8.187zM507.88 338.02h8.187v9.98h-8.187zM507.88 348.00h8.187v9.98h-8.187zM507.88 357.98h8.187v9.98h-8.187z" fill="#6165bd"/>
<path d="M156.65 258.18h6.887v9.98h-6.887zM156.65 268.16h6.887v9.98h-6.887zM156.65 278.14h6.887v9.98h-6.887zM156.65 288.12h6.887v9.98h-6.887zM156.65 298.10h6.887v9.98h-6.887zM156.65 308.08h6.887v9.98h-6.887zM156.65 318.06h6.887v9.98h-6.887zM156.65 328.04h6.887v9.98h-6.887zM156.65 338.02h6.887v9.98h-6.887zM156.65 348.00h6.887v9.98h-6.887z" fill="#7a7ac6"/>
<path d="M163.53 258.18h6.887v9.98h-6.887zM163.53 268.16h6.887v9.98h-6.887zM163.53 278.14h6.887v9.98h-6.887zM163.53 288.12h6.887v9.98h-6.887zM163.53 298.10h6.887v9.98h-6.887zM163.53 308.08h6.887v9.98h-6.887zM163.53 318.06h6.887v9.98h-6.887zM163.53 328.04h6.887v9.98h-6.887zM163.53 338.02h6.887v9.98h-6.887zM184.20 248.20h6.887v9.98h-6.887zM184.20 258.18h6.887v9.98h-6.887zM184.20 268.16h6.887v9.98h-6.887zM184.20 278.14h6.887v9.98h-6.887zM184.20 288.12h6.887v9.98h-6.887zM184.20 298.10h6.887v9.98h-6.887zM184.20 308.08h6.887v9.98h-6.887zM184.20 338.02h6.887v9.98h-6.887zM184.20 357.98h6.887v9.98h-6.887zM301.27 248.20h6.887v9.98h-6.887zM301.27 278.14h6.887v9.98h-6.887zM301.27 288.12h6.887v9.98h-6.887zM301.27 298.10h6.887v9.98h-6.887zM301.27 308.08h6.887v9.98h-6.887zM301.27 328.04h6.887v9.98h-6.887zM301.27 338.02h6.887v9.98h-6.887zM301.27 348.00h6.887v9.98h-6.887zM301.27 357.98h6.887v9.98h-6.887zM308.16 248.20h6.887v9.98h-6.887zM308.16 278.14h6.887v9.98h-6.887zM308.16 288.12h6.887v9.98h-6.887zM308.16 298.10h6.887v9.98h-6.887zM308.16 308.08h6.887v9.98h-6.887zM308.16 328.04h6.887v9.98h-6.887zM308.16 338.02h6.887v9.98h-6.887zM308.16 348.00h6.887v9.98h-6.887zM308.16 357.98h6.887v9.98h-6.887z" fill="#9a9ad4"/>
<path d="M170.42 258.18h6.887v9.98h-6.887zM170.42 268.16h6.887v9.98h-6.887zM170.42 278.14h6.887v9.98h-6.887zM170.42 288.12h6.887v9.98h-6.887zM170.42 298.10h6.887v9.98h-6.887zM170.42 308.08h6.887v9.98h-6.887zM170.42 318.06h6.887v9.98h-6.887zM287.50 248.20h6.887v9.98h-6.887zM287.50 298.10h6.887v9.98h-6.887zM287.50 308.08h6.887v9.98h-6.887zM287.50 328.04h6.887v9.98h-6.887zM287.50 338.02h6.887v9.98h-6.887zM287.50 348.00h6.887v9.98h-6.887zM287.50 357.98h6.887v9.98h-6.887z" fill="#bfbfe6"/>
<path d="M177.31 258.18h6.887v9.98h-6.887zM177.31 268.16h6.887v9.98h-6.887zM177.31 278.14h6.887v9.98h-6.887zM177.31 288.12h6.887v9.98h-6.887zM177.31 298.10h6.887v9.98h-6.887zM177.31 308.08h6.887v9.98h-6.887zM273.73 248.20h6.887v9.98h-6.887zM273.73 308.08h6.887v9.98h-6.887zM273.73 328.04h6.887v9.98h-6.887zM273.73 338.02h6.887v9.98h-6.887zM273.73 348.00h6.887v9.98h-6.887zM273.73 357.98h6.887v9.98h-6.887zM280.61 248.20h6.887v9.98h-6.887zM280.61 308.08h6.887v9.98h-6.887zM280.61 328.04h6.887v9.98h-6.887zM280.61 338.02h6.887v9.98h-6.887zM280.61 348.00h6.887v9.98h-6.887zM280.61 357.98h6.887v9.98h-6.887z" fill="#c8c8ea"/>
<path d="M191.08 258.18h6.887v9.98h-6.887zM191.08 268.16h6.887v9.98h-6.887zM191.08 278.14h6.887v9.98h-6.887zM191.08 288.12h6.887v9.98h-6.887zM191.08 298.10h6.887v9.98h-6.887z" fill="#e0e0f4"/>
<path d="M218.63 248.20h6.887v9.98h-6.887zM218.63 308.08h6.887v9.98h-6.887zM218.63 328.04h6.887v9.98h-6.887zM218.63 338.02h6.887v9.98h-6.887zM218.63 357.98h6.887v9.98h-6.887zM225.52 248.20h6.887v9.98h-6.887zM225.52 308.08h6.887v9.98h-6.887zM225.52 328.04h6.887v9.98h-6.887zM225.52 338.02h6.887v9.98h-6.887zM225.52 357.98h6.887v9.98h-6.887zM232.40 248.20h6.887v9.98h-6.887zM232.40 308.08h6.887v9.98h-6.887zM232.40 328.04h6.887v9.98h-6.887zM232.40 338.02h6.887v9.98h-6.887zM232.40 357.98h6.887v9.98h-6.887zM239.29 248.20h6.887v9.98h-6.887zM239.29 308.08h6.887v9.98h-6.887zM239.29 328.04h6.887v9.98h-6.887zM239.29 338.02h6.887v9.98h-6.887zM239.29 357.98h6.887v9.98h-6.887zM246.18 248.20h6.887v9.98h-6.887zM246.18 308.08h6.887v9.98h-6.887zM246.18 328.04h6.887v9.98h-6.887zM246.18 338.02h6.887v9.98h-6.887zM246.18 357.98h6.887v9.98h-6.887zM253.07 248.20h6.887v9.98h-6.887zM253.07 308.08h6.887v9.98h-6.887zM253.07 328.04h6.887v9.98h-6.887zM253.07 338.02h6.887v9.98h-6.887zM253.07 357.98h6.887v9.98h-6.887zM259.95 248.20h6.887v9.98h-6.887zM259.95 308.08h6.887v9.98h-6.887zM259.95 328.04h6.887v9.98h-6.887zM259.95 338.02h6.887v9.98h-6.887zM259.95 357.98h6.887v9.98h-6.887zM266.84 248.20h6.887v9.98h-6.887zM266.84 308.08h6.887v9.98h-6.887zM266.84 328.04h6.887v9.98h-6.887zM266.84 338.02h6.887v9.98h-6.887zM266.84 357.98h6.887v9.98h-6.887z" fill="#d6d6f0"/>
<path d="M294.39 248.20h6.887v9.98h-6.887zM294.39 278.14h6.887v9.98h-6.887zM294.39 298.10h6.887v9.98h-6.887zM294.39 308.08h6.887v9.98h-6.887zM294.39 328.04h6.887v9.98h-6.887zM294.39 338.02h6.887v9.98h-6.887zM294.39 348.00h6.887v9.98h-6.887zM294.39 357.98h6.887v9.98h-6.887z" fill="#a4a4d9"/>
<g font-size="7.6" text-anchor="middle" fill="#1e1e44" stroke="#1e1e44" stroke-width="0.3" transform="scale(0.93 1)">
<text x="142.52 149.93 157.33 164.74 172.14 179.55 186.95 194.36 201.76 209.17 216.57 223.98 231.38 238.79 246.20 253.60 261.01 268.41 275.82 283.22 290.63 298.03 305.44 312.84 320.25 327.65 335.06 342.47 349.87 357.28 364.68 372.09 379.49 386.90 394.30 401.71 409.11 416.52 423.92 431.33 438.73 446.14 453.55 460.95 468.36 475.76 483.17 490.57 497.98 505.38 512.79 520.19 527.60 535.00 542.41 549.82" y="256.70">FSTASGK-SVQVSDASLQNARQVFSEIEDSTKQVFSKVLFKSNEHSDQLTREENTA</text>
<text x="142.52 149.93 157.33 164.74 172.14 179.55 186.95 194.36 201.76 209.17 216.57 223.98 231.38 238.79 246.20 253.60 261.01 268.41 275.82 283.22 290.63 298.03 305.44 312.84 320.25 327.65 335.06 342.47 349.87 357.28 364.68 372.09 379.49 386.90 394.30 401.71 409.11 416.52 423.92 431.33 438.73 446.14 453.55 460.95 468.36 475.76 483.17 490.57 497.98 505.38 512.79 520.19 527.60 535.00 542.41 549.82" y="266.68">FSTARENLSRYQMLHYKTQDKCFLKX------------------------------</text>
<text x="142.52 149.93 157.33 164.74 172.14 179.55 186.95 194.36 201.76 209.17 216.57 223.98 231.38 238.79 246.20 253.60 261.01 268.41 275.82 283.22 290.63 298.03 305.44 312.84 320.25 327.65 335.06 342.47 349.87 357.28 364.68 372.09 379.49 386.90 394.30 401.71 409.11 416.52 423.92 431.33 438.73 446.14 453.55 460.95 468.36 475.76 483.17 490.57 497.98 505.38 512.79 520.19 527.60 535.00 542.41 549.82" y="276.66">FSTARENLSRYQMLHYKTQDKCK----EDSTKQVFSKVLFKSNEHSDQLTREENTA</text>
<text x="142.52 149.93 157.33 164.74 172.14 179.55 186.95 194.36 201.76 209.17 216.57 223.98 231.38 238.79 246.20 253.60 261.01 268.41 275.82 283.22 290.63 298.03 305.44 312.84 320.25 327.65 335.06 342.47 349.87 357.28 364.68 372.09 379.49 386.90 394.30 401.71 409.11 416.52 423.92 431.33 438.73 446.14 453.55 460.95 468.36 475.76 483.17 490.57 497.98 505.38 512.79 520.19 527.60 535.00 542.41 549.82" y="286.64">FSTARENLSRYQMLHYKTQDIS--SEIEDSTKQVFSKVLFKSNEHSDQLTREENTA</text>
<text x="142.52 149.93 157.33 164.74 172.14 179.55 186.95 194.36 201.76 209.17 216.57 223.98 231.38 238.79 246.20 253.60 261.01 268.41 275.82 283.22 290.63 298.03 305.44 312.84 320.25 327.65 335.06 342.47 349.87 357.28 364.68 372.09 379.49 386.90 394.30 401.71 409.11 416.52 423.92 431.33 438.73 446.14 453.55 460.95 468.36 475.76 483.17 490.57 497.98 505.38 512.79 520.19 527.60 535.00 542.41 549.82" y="296.62">FSTARENLSRYQMLHYKTQ------EIEDSTKQVFSKVLFKSNEHSDQLTREENTA</text>
<text x="142.52 149.93 157.33 164.74 172.14 179.55 186.95 194.36 201.76 209.17 216.57 223.98 231.38 238.79 246.20 253.60 261.01 268.41 275.82 283.22 290.63 298.03 305.44 312.84 320.25 327.65 335.06 342.47 349.87 357.28 364.68 372.09 379.49 386.90 394.30 401.71 409.11 416.52 423.92 431.33 438.73 446.14 453.55 460.95 468.36 475.76 483.17 490.57 497.98 505.38 512.79 520.19 527.60 535.00 542.41 549.82" y="306.60">FSTARENLSR-------------FSEIEDSTKQVFSKVLFKSNEHSDQLTREENTA</text>
<text x="142.52 149.93 157.33 164.74 172.14 179.55 186.95 194.36 201.76 209.17 216.57 223.98 231.38 238.79 246.20 253.60 261.01 268.41 275.82 283.22 290.63 298.03 305.44 312.84 320.25 327.65 335.06 342.47 349.87 357.28 364.68 372.09 379.49 386.90 394.30 401.71 409.11 416.52 423.92 431.33 438.73 446.14 453.55 460.95 468.36 475.76 483.17 490.57 497.98 505.38 512.79 520.19 527.60 535.00 542.41 549.82" y="316.58">FSTARENLS----DASLQNARQVFSEIEDSTKQVFSKVLFKSNEHSDQLTREENTA</text>
<text x="142.52 149.93 157.33 164.74 172.14 179.55 186.95 194.36 201.76 209.17 216.57 223.98 231.38 238.79 246.20 253.60 261.01 268.41 275.82 283.22 290.63 298.03 305.44 312.84 320.25 327.65 335.06 342.47 349.87 357.28 364.68 372.09 379.49 386.90 394.30 401.71 409.11 416.52 423.92 431.33 438.73 446.14 453.55 460.95 468.36 475.76 483.17 490.57 497.98 505.38 512.79 520.19 527.60 535.00 542.41 549.82" y="326.56">FSTAREN------------------------------------------------A</text>
<text x="142.52 149.93 157.33 164.74 172.14 179.55 186.95 194.36 201.76 209.17 216.57 223.98 231.38 238.79 246.20 253.60 261.01 268.41 275.82 283.22 290.63 298.03 305.44 312.84 320.25 327.65 335.06 342.47 349.87 357.28 364.68 372.09 379.49 386.90 394.30 401.71 409.11 416.52 423.92 431.33 438.73 446.14 453.55 460.95 468.36 475.76 483.17 490.57 497.98 505.38 512.79 520.19 527.60 535.00 542.41 549.82" y="336.54">FSTARE----KVSDASLQNARQVFSEIEDSTKQVFSKVLFKSNEHSDQLTREENTA</text>
<text x="142.52 149.93 157.33 164.74 172.14 179.55 186.95 194.36 201.76 209.17 216.57 223.98 231.38 238.79 246.20 253.60 261.01 268.41 275.82 283.22 290.63 298.03 305.44 312.84 320.25 327.65 335.06 342.47 349.87 357.28 364.68 372.09 379.49 386.90 394.30 401.71 409.11 416.52 423.92 431.33 438.73 446.14 453.55 460.95 468.36 475.76 483.17 490.57 497.98 505.38 512.79 520.19 527.60 535.00 542.41 549.82" y="346.52">FSTAREKKSVQVSDASLQNARQVFSEIEDSTKQVFSKVLFKSNEHSDQLTREENTA</text>
<text x="142.52 149.93 157.33 164.74 172.14 179.55 186.95 194.36 201.76 209.17 216.57 223.98 231.38 238.79 246.20 253.60 261.01 268.41 275.82 283.22 290.63 298.03 305.44 312.84 320.25 327.65 335.06 342.47 349.87 357.28 364.68 372.09 379.49 386.90 394.30 401.71 409.11 416.52 423.92 431.33 438.73 446.14 453.55 460.95 468.36 475.76 483.17 490.57 497.98 505.38 512.79 520.19 527.60 535.00 542.41 549.82" y="356.50">FSTAR----------------QVFSEIEDSTKQVFSKVLFKSNEHSDQLTREENTA</text>
<text x="142.52 149.93 157.33 164.74 172.14 179.55 186.95 194.36 201.76 209.17 216.57 223.98 231.38 238.79 246.20 253.60 261.01 268.41 275.82 283.22 290.63 298.03 305.44 312.84 320.25 327.65 335.06 342.47 349.87 357.28 364.68 372.09 379.49 386.90 394.30 401.71 409.11 416.52 423.92 431.33 438.73 446.14 453.55 460.95 468.36 475.76 483.17 490.57 497.98 505.38 512.79 520.19 527.60 535.00 542.41 549.82" y="366.48">FSTA----SVQVSDASLQNARQVFSEIEDSTKQVFSKVLFKSNEHSDQLTREENTA</text>
</g>
<text x="126.50" y="256.80" font-size="7.55" text-anchor="end" stroke="#222" stroke-width="0.2">Wild-type</text>
<text x="126.50" y="266.48" font-size="7.6" text-anchor="end" stroke="#222" stroke-width="0.2"><tspan font-style="italic">BRCA2</tspan>:c.5946delT</text>
<text x="126.50" y="276.06" font-size="6.72" text-anchor="end" stroke="#222" stroke-width="0.2">c.5998_6008delTTTTCTGAAATinsCAA</text>
<text x="126.50" y="286.04" font-size="6.72" text-anchor="end" stroke="#222" stroke-width="0.2">c.5994_5999delAGTGTTinsTATC</text>
<text x="126.50" y="296.02" font-size="6.72" text-anchor="end" stroke="#222" stroke-width="0.2">c.5992_6005delCAAGTGTTTTCTGA</text>
<text x="126.50" y="306.00" font-size="6.72" text-anchor="end" stroke="#222" stroke-width="0.2">c.5964_5998del35</text>
<text x="126.50" y="315.98" font-size="6.72" text-anchor="end" stroke="#222" stroke-width="0.2">c.5959_5966delCAGGTATC</text>
<text x="126.50" y="325.96" font-size="6.72" text-anchor="end" stroke="#222" stroke-width="0.2">c.5954_6090del137</text>
<text x="126.50" y="335.94" font-size="6.72" text-anchor="end" stroke="#222" stroke-width="0.2">c.5952_5959delATCTGTCC</text>
<text x="126.50" y="345.92" font-size="6.72" text-anchor="end" stroke="#222" stroke-width="0.2">c.5949_5952dupAAAA</text>
<text x="126.50" y="355.90" font-size="6.72" text-anchor="end" stroke="#222" stroke-width="0.2">c.5946_5990del45</text>
<text x="126.50" y="365.88" font-size="6.72" text-anchor="end" stroke="#222" stroke-width="0.2">c.5944_5952delAGTGGAAAA</text>
<line x1="125.66" x2="125.66" y1="245.2" y2="248.2" stroke="#111" stroke-width="0.9"/>
<line x1="160.09" x2="160.09" y1="245.2" y2="248.2" stroke="#111" stroke-width="0.9"/>
<line x1="194.53" x2="194.53" y1="245.2" y2="248.2" stroke="#111" stroke-width="0.9"/>
<line x1="228.96" x2="228.96" y1="245.2" y2="248.2" stroke="#111" stroke-width="0.9"/>
<line x1="263.40" x2="263.40" y1="245.2" y2="248.2" stroke="#111" stroke-width="0.9"/>
<line x1="297.83" x2="297.83" y1="245.2" y2="248.2" stroke="#111" stroke-width="0.9"/>
<line x1="332.27" x2="332.27" y1="245.2" y2="248.2" stroke="#111" stroke-width="0.9"/>
<line x1="366.70" x2="366.70" y1="245.2" y2="248.2" stroke="#111" stroke-width="0.9"/>
<line x1="401.14" x2="401.14" y1="245.2" y2="248.2" stroke="#111" stroke-width="0.9"/>
<line x1="435.57" x2="435.57" y1="245.2" y2="248.2" stroke="#111" stroke-width="0.9"/>
<line x1="470.01" x2="470.01" y1="245.2" y2="248.2" stroke="#111" stroke-width="0.9"/>
<line x1="504.44" x2="504.44" y1="245.2" y2="248.2" stroke="#111" stroke-width="0.9"/>
<text x="160.80" y="243.70" font-size="7.6" text-anchor="middle" stroke="#222" stroke-width="0.2">S1982fs</text>
<text x="196.13" y="243.70" font-size="7.6" text-anchor="middle" stroke="#222" stroke-width="0.2">10</text>
<text x="265.00" y="243.70" font-size="7.6" text-anchor="middle" stroke="#222" stroke-width="0.2">20</text>
<text x="333.87" y="243.70" font-size="7.6" text-anchor="middle" stroke="#222" stroke-width="0.2">30</text>
<text x="402.74" y="243.70" font-size="7.6" text-anchor="middle" stroke="#222" stroke-width="0.2">40</text>
<text x="471.61" y="243.70" font-size="7.6" text-anchor="middle" stroke="#222" stroke-width="0.2">50</text>
<path d="M156.45 258.78 L308.46 258.78 L308.46 268.16 L293.79 268.16 L293.79 278.14 L283.40 278.14 L283.40 308.08 L196.77 308.08 L196.77 328.64 L176.11 328.64 L176.11 369.56 L156.45 369.56 Z" fill="none" stroke="#f8d27a" stroke-width="2.4" stroke-linejoin="miter"/>
<path d="M156.45 258.78 L308.46 258.78 L308.46 268.16 L293.79 268.16 L293.79 278.14 L283.40 278.14 L283.40 308.08 L196.77 308.08 L196.77 328.64 L176.11 328.64 L176.11 369.56 L156.45 369.56 Z" fill="none" stroke="#f0a91e" stroke-width="1.3" stroke-linejoin="miter"/>
<text x="166.40" y="379.80" font-size="8.58" text-anchor="middle" fill="#f3c55c" stroke="#f3c55c" stroke-width="0.2">Out-of-frame amino</text>
<text x="166.00" y="389.50" font-size="8.58" text-anchor="middle" fill="#f3c55c" stroke="#f3c55c" stroke-width="0.2">acid sequence</text>
<text x="1.00" y="416.50" font-size="10" font-weight="bold" fill="#000" stroke="#000" stroke-width="0.2">C</text>
<text x="117.60" y="410.40" font-size="7.5" text-anchor="middle" stroke="#222" stroke-width="0.2">Neopeptide sequence</text>
<rect x="41.60" y="415.50" width="62.80" height="9.60" fill="#5860b6"/>
<rect x="104.40" y="415.50" width="21.70" height="9.60" fill="#d3d3d3"/>
<rect x="126.10" y="415.50" width="67.50" height="9.60" fill="#5860b6"/>
<line x1="104.40" y1="415.50" x2="104.40" y2="425.10" stroke="#15183c" stroke-width="0.9"/>
<line x1="126.10" y1="415.50" x2="126.10" y2="425.10" stroke="#15183c" stroke-width="0.9"/>
<rect x="42.25" y="416.15" width="150.70" height="8.30" fill="none" stroke="#15183c" stroke-width="1.3"/>
<text x="145.40" y="433.70" font-size="7.5" stroke="#222" stroke-width="0.2">Reverted protein</text>
<rect x="87.80" y="432.30" width="16.80" height="10.00" fill="#5860b6"/>
<rect x="104.60" y="432.30" width="15.60" height="10.00" fill="#d3d3d3"/>
<line x1="104.60" y1="432.30" x2="104.60" y2="442.30" stroke="#15183c" stroke-width="0.9"/>
<rect x="88.45" y="432.95" width="31.10" height="8.70" fill="none" stroke="#15183c" stroke-width="1.3"/>
<rect x="91.10" y="444.00" width="13.50" height="10.10" fill="#5860b6"/>
<rect x="104.60" y="444.00" width="19.10" height="10.10" fill="#d3d3d3"/>
<line x1="104.60" y1="444.00" x2="104.60" y2="454.10" stroke="#15183c" stroke-width="0.9"/>
<rect x="91.75" y="444.65" width="31.30" height="8.80" fill="none" stroke="#15183c" stroke-width="1.3"/>
<rect x="94.20" y="457.00" width="10.40" height="9.90" fill="#5860b6"/>
<rect x="104.60" y="457.00" width="21.10" height="9.90" fill="#d3d3d3"/>
<rect x="125.70" y="457.00" width="4.00" height="9.90" fill="#5860b6"/>
<line x1="104.60" y1="457.00" x2="104.60" y2="466.90" stroke="#15183c" stroke-width="0.9"/>
<line x1="125.70" y1="457.00" x2="125.70" y2="466.90" stroke="#15183c" stroke-width="0.9"/>
<rect x="94.85" y="457.65" width="34.20" height="8.60" fill="none" stroke="#15183c" stroke-width="1.3"/>
<rect x="96.30" y="469.10" width="8.30" height="9.90" fill="#5860b6"/>
<rect x="104.60" y="469.10" width="21.10" height="9.90" fill="#d3d3d3"/>
<rect x="125.70" y="469.10" width="6.10" height="9.90" fill="#5860b6"/>
<line x1="104.60" y1="469.10" x2="104.60" y2="479.00" stroke="#15183c" stroke-width="0.9"/>
<line x1="125.70" y1="469.10" x2="125.70" y2="479.00" stroke="#15183c" stroke-width="0.9"/>
<rect x="96.95" y="469.75" width="34.20" height="8.60" fill="none" stroke="#15183c" stroke-width="1.3"/>
<rect x="99.80" y="481.60" width="4.80" height="10.00" fill="#5860b6"/>
<rect x="104.60" y="481.60" width="21.10" height="10.00" fill="#d3d3d3"/>
<rect x="125.70" y="481.60" width="9.70" height="10.00" fill="#5860b6"/>
<line x1="104.60" y1="481.60" x2="104.60" y2="491.60" stroke="#15183c" stroke-width="0.9"/>
<line x1="125.70" y1="481.60" x2="125.70" y2="491.60" stroke="#15183c" stroke-width="0.9"/>
<rect x="100.45" y="482.25" width="34.30" height="8.70" fill="none" stroke="#15183c" stroke-width="1.3"/>
<rect x="104.10" y="493.90" width="21.60" height="9.80" fill="#d3d3d3"/>
<rect x="125.70" y="493.90" width="14.00" height="9.80" fill="#5860b6"/>
<line x1="125.70" y1="493.90" x2="125.70" y2="503.70" stroke="#15183c" stroke-width="0.9"/>
<rect x="104.75" y="494.55" width="34.30" height="8.50" fill="none" stroke="#15183c" stroke-width="1.3"/>
<path d="M83.2 432.8 H81.3 V503.2 H83.2 M81.3 467.4 H77.8" fill="none" stroke="#111" stroke-width="1"/>
<path d="M134.8 467 H144" stroke="#000" stroke-width="1.3" fill="none"/>
<path d="M147.9 467 L142.6 464.2 L142.6 469.8 Z" fill="#000"/>
<text x="39.40" y="462.00" font-size="7.6" text-anchor="middle" stroke="#222" stroke-width="0.2">Peptide (8-11 aa)</text>
<text x="39.40" y="471.05" font-size="7.6" text-anchor="middle" stroke="#222" stroke-width="0.2">surrounding potential</text>
<text x="39.40" y="480.10" font-size="7.6" text-anchor="middle" stroke="#222" stroke-width="0.2">neopeptide sequence</text>
<text x="179.50" y="460.20" font-size="7.5" text-anchor="middle" stroke="#222" stroke-width="0.2">MHC binding</text>
<text x="179.50" y="469.30" font-size="7.5" text-anchor="middle" stroke="#222" stroke-width="0.2">prediction</text>
<text x="179.50" y="478.40" font-size="7.5" text-anchor="middle" stroke="#222" stroke-width="0.2">(NetMHCpan 4.0)</text>
<text x="226.70" y="416.20" font-size="7.4" font-weight="bold" fill="#111" stroke="#111" stroke-width="0.2">Neopeptide</text>
<text x="407.50" y="416.20" font-size="7.4" text-anchor="end" font-weight="bold" fill="#111" stroke="#111" stroke-width="0.2">Reversion events</text>
<text x="510.30" y="416.20" font-size="7.6" text-anchor="end" font-weight="bold" fill="#111" stroke="#111" stroke-width="0.2">Individuals presenting</text>
<line x1="225.2" x2="512" y1="419.6" y2="419.6" stroke="#333" stroke-width="0.8"/>
<text x="226.50" y="430.40" font-size="7.5" stroke="#222" stroke-width="0.2">REN</text>
<text x="406.60" y="430.40" font-size="7.5" text-anchor="end" stroke="#222" stroke-width="0.2">6</text>
<text x="508.00" y="430.40" font-size="7.5" text-anchor="end" stroke="#222" stroke-width="0.2">13%</text>
<text x="226.50" y="444.08" font-size="7.5" stroke="#222" stroke-width="0.2">RENL</text>
<text x="406.60" y="444.08" font-size="7.5" text-anchor="end" stroke="#222" stroke-width="0.2">5</text>
<text x="508.00" y="444.08" font-size="7.5" text-anchor="end" stroke="#222" stroke-width="0.2">41%</text>
<text x="226.50" y="457.76" font-size="7.5" stroke="#222" stroke-width="0.2">RENLS</text>
<text x="406.60" y="457.76" font-size="7.5" text-anchor="end" stroke="#222" stroke-width="0.2">5</text>
<text x="508.00" y="457.76" font-size="7.5" text-anchor="end" stroke="#222" stroke-width="0.2">41%</text>
<text x="226.50" y="471.44" font-size="7.5" stroke="#222" stroke-width="0.2">RENLSR</text>
<text x="406.60" y="471.44" font-size="7.5" text-anchor="end" stroke="#222" stroke-width="0.2">4</text>
<text x="508.00" y="471.44" font-size="7.5" text-anchor="end" stroke="#222" stroke-width="0.2">60%</text>
<text x="226.50" y="485.12" font-size="7.5" stroke="#222" stroke-width="0.2">RENLSRY</text>
<text x="406.60" y="485.12" font-size="7.5" text-anchor="end" stroke="#222" stroke-width="0.2">3</text>
<text x="508.00" y="485.12" font-size="7.5" text-anchor="end" stroke="#222" stroke-width="0.2">84%</text>
<text x="226.50" y="498.80" font-size="7.5" stroke="#222" stroke-width="0.2">RENLSRYQMLHYKTQ</text>
<text x="406.60" y="498.80" font-size="7.5" text-anchor="end" stroke="#222" stroke-width="0.2">3</text>
<text x="508.00" y="498.80" font-size="7.5" text-anchor="end" stroke="#222" stroke-width="0.2">96%</text>
<text x="1.00" y="519.20" font-size="10" font-weight="bold" fill="#000" stroke="#000" stroke-width="0.2">D</text>
<rect x="27.90" y="522.20" width="491.60" height="183.60" fill="#fff"/>
<line x1="27.9" x2="519.5" y1="676.41" y2="676.41" stroke="#fafafa" stroke-width="0.5"/>
<line x1="27.9" x2="519.5" y1="634.84" y2="634.84" stroke="#fafafa" stroke-width="0.5"/>
<line x1="27.9" x2="519.5" y1="593.26" y2="593.26" stroke="#fafafa" stroke-width="0.5"/>
<line x1="27.9" x2="519.5" y1="551.69" y2="551.69" stroke="#fafafa" stroke-width="0.5"/>
<line x1="27.9" x2="519.5" y1="697.20" y2="697.20" stroke="#f3f3f3" stroke-width="0.8"/>
<line x1="27.9" x2="519.5" y1="655.62" y2="655.62" stroke="#f3f3f3" stroke-width="0.8"/>
<line x1="27.9" x2="519.5" y1="614.05" y2="614.05" stroke="#f3f3f3" stroke-width="0.8"/>
<line x1="27.9" x2="519.5" y1="572.48" y2="572.48" stroke="#f3f3f3" stroke-width="0.8"/>
<line x1="27.9" x2="519.5" y1="530.90" y2="530.90" stroke="#f3f3f3" stroke-width="0.8"/>
<rect x="63.16" y="695.80" width="1.67" height="1.40" fill="#E64B35"/>
<rect x="64.83" y="694.72" width="1.67" height="2.48" fill="#E64B35"/>
<rect x="66.50" y="693.64" width="1.67" height="3.56" fill="#E64B35"/>
<rect x="68.17" y="693.04" width="1.67" height="4.16" fill="#4DBBD5"/>
<rect x="69.84" y="692.44" width="1.67" height="4.76" fill="#E64B35"/>
<rect x="71.51" y="691.59" width="1.67" height="5.61" fill="#4DBBD5"/>
<rect x="73.18" y="690.99" width="1.67" height="6.21" fill="#4DBBD5"/>
<rect x="74.85" y="690.40" width="1.67" height="6.80" fill="#4DBBD5"/>
<rect x="76.53" y="689.80" width="1.67" height="7.40" fill="#4DBBD5"/>
<rect x="78.20" y="686.56" width="1.67" height="10.64" fill="#E64B35"/>
<rect x="79.87" y="686.56" width="1.67" height="10.64" fill="#4DBBD5"/>
<rect x="81.54" y="686.56" width="1.67" height="10.64" fill="#4DBBD5"/>
<rect x="83.21" y="686.56" width="1.67" height="10.64" fill="#4DBBD5"/>
<rect x="84.88" y="686.54" width="1.67" height="10.66" fill="#E64B35"/>
<rect x="86.55" y="685.22" width="1.67" height="11.98" fill="#4DBBD5"/>
<rect x="88.22" y="681.57" width="1.67" height="15.63" fill="#E64B35"/>
<rect x="89.89" y="680.93" width="1.67" height="16.27" fill="#4DBBD5"/>
<rect x="91.56" y="679.47" width="1.67" height="17.73" fill="#4DBBD5"/>
<rect x="93.24" y="678.01" width="1.67" height="19.19" fill="#4DBBD5"/>
<rect x="94.91" y="676.55" width="1.67" height="20.65" fill="#4DBBD5"/>
<rect x="96.58" y="675.09" width="1.67" height="22.11" fill="#4DBBD5"/>
<rect x="98.25" y="674.75" width="1.67" height="22.45" fill="#E64B35"/>
<rect x="99.92" y="672.92" width="1.67" height="24.28" fill="#4DBBD5"/>
<rect x="101.59" y="672.92" width="1.67" height="24.28" fill="#E64B35"/>
<rect x="103.26" y="672.92" width="1.67" height="24.28" fill="#4DBBD5"/>
<rect x="104.93" y="672.92" width="1.67" height="24.28" fill="#4DBBD5"/>
<rect x="106.60" y="672.92" width="1.67" height="24.28" fill="#4DBBD5"/>
<rect x="108.27" y="672.92" width="1.67" height="24.28" fill="#3C5488"/>
<rect x="109.94" y="672.92" width="1.67" height="24.28" fill="#4DBBD5"/>
<rect x="111.62" y="671.76" width="1.67" height="25.44" fill="#4DBBD5"/>
<rect x="113.29" y="671.76" width="1.67" height="25.44" fill="#4DBBD5"/>
<rect x="114.96" y="671.76" width="1.67" height="25.44" fill="#4DBBD5"/>
<rect x="116.63" y="671.76" width="1.67" height="25.44" fill="#4DBBD5"/>
<rect x="118.30" y="669.93" width="1.67" height="27.27" fill="#E64B35"/>
<rect x="119.97" y="669.93" width="1.67" height="27.27" fill="#4DBBD5"/>
<rect x="121.64" y="667.93" width="1.67" height="29.27" fill="#E64B35"/>
<rect x="123.31" y="664.77" width="1.67" height="32.43" fill="#4DBBD5"/>
<rect x="124.98" y="664.77" width="1.67" height="32.43" fill="#4DBBD5"/>
<rect x="126.65" y="664.77" width="1.67" height="32.43" fill="#4DBBD5"/>
<rect x="128.33" y="664.77" width="1.67" height="32.43" fill="#4DBBD5"/>
<rect x="130.00" y="664.77" width="1.67" height="32.43" fill="#4DBBD5"/>
<rect x="131.67" y="664.77" width="1.67" height="32.43" fill="#4DBBD5"/>
<rect x="133.34" y="664.77" width="1.67" height="32.43" fill="#4DBBD5"/>
<rect x="135.01" y="664.77" width="1.67" height="32.43" fill="#4DBBD5"/>
<rect x="136.68" y="662.01" width="1.67" height="35.19" fill="#4DBBD5"/>
<rect x="138.35" y="659.95" width="1.67" height="37.25" fill="#4DBBD5"/>
<rect x="140.02" y="659.95" width="1.67" height="37.25" fill="#4DBBD5"/>
<rect x="141.69" y="659.95" width="1.67" height="37.25" fill="#4DBBD5"/>
<rect x="143.36" y="659.95" width="1.67" height="37.25" fill="#4DBBD5"/>
<rect x="145.04" y="659.95" width="1.67" height="37.25" fill="#4DBBD5"/>
<rect x="146.71" y="659.95" width="1.67" height="37.25" fill="#4DBBD5"/>
<rect x="148.38" y="659.95" width="1.67" height="37.25" fill="#3C5488"/>
<rect x="150.05" y="658.45" width="1.67" height="38.75" fill="#4DBBD5"/>
<rect x="151.72" y="658.45" width="1.67" height="38.75" fill="#4DBBD5"/>
<rect x="153.39" y="658.45" width="1.67" height="38.75" fill="#4DBBD5"/>
<rect x="155.06" y="658.45" width="1.67" height="38.75" fill="#4DBBD5"/>
<rect x="156.73" y="658.45" width="1.67" height="38.75" fill="#4DBBD5"/>
<rect x="158.40" y="657.69" width="1.67" height="39.51" fill="#4DBBD5"/>
<rect x="160.07" y="656.46" width="1.67" height="40.74" fill="#4DBBD5"/>
<rect x="161.74" y="656.46" width="1.67" height="40.74" fill="#4DBBD5"/>
<rect x="163.42" y="656.46" width="1.67" height="40.74" fill="#4DBBD5"/>
<rect x="165.09" y="656.46" width="1.67" height="40.74" fill="#4DBBD5"/>
<rect x="166.76" y="656.46" width="1.67" height="40.74" fill="#4DBBD5"/>
<rect x="168.43" y="654.96" width="1.67" height="42.24" fill="#3C5488"/>
<rect x="170.10" y="653.63" width="1.67" height="43.57" fill="#4DBBD5"/>
<rect x="171.77" y="652.30" width="1.67" height="44.90" fill="#E64B35"/>
<rect x="173.44" y="652.30" width="1.67" height="44.90" fill="#E64B35"/>
<rect x="175.11" y="651.68" width="1.67" height="45.52" fill="#4DBBD5"/>
<rect x="176.78" y="649.94" width="1.67" height="47.26" fill="#4DBBD5"/>
<rect x="178.45" y="649.12" width="1.67" height="48.08" fill="#4DBBD5"/>
<rect x="180.13" y="648.30" width="1.67" height="48.90" fill="#4DBBD5"/>
<rect x="181.80" y="645.65" width="1.67" height="51.55" fill="#4DBBD5"/>
<rect x="183.47" y="645.65" width="1.67" height="51.55" fill="#4DBBD5"/>
<rect x="185.14" y="645.65" width="1.67" height="51.55" fill="#4DBBD5"/>
<rect x="186.81" y="645.65" width="1.67" height="51.55" fill="#4DBBD5"/>
<rect x="188.48" y="638.83" width="1.67" height="58.37" fill="#E64B35"/>
<rect x="190.15" y="638.24" width="1.67" height="58.96" fill="#4DBBD5"/>
<rect x="191.82" y="637.23" width="1.67" height="59.97" fill="#4DBBD5"/>
<rect x="193.49" y="636.22" width="1.67" height="60.98" fill="#4DBBD5"/>
<rect x="195.16" y="633.17" width="1.67" height="64.03" fill="#4DBBD5"/>
<rect x="196.84" y="633.17" width="1.67" height="64.03" fill="#4DBBD5"/>
<rect x="198.51" y="633.17" width="1.67" height="64.03" fill="#4DBBD5"/>
<rect x="200.18" y="632.18" width="1.67" height="65.02" fill="#E64B35"/>
<rect x="201.85" y="631.18" width="1.67" height="66.02" fill="#4DBBD5"/>
<rect x="203.52" y="630.83" width="1.67" height="66.37" fill="#4DBBD5"/>
<rect x="205.19" y="630.48" width="1.67" height="66.72" fill="#4DBBD5"/>
<rect x="206.86" y="630.12" width="1.67" height="67.08" fill="#4DBBD5"/>
<rect x="208.53" y="629.77" width="1.67" height="67.43" fill="#4DBBD5"/>
<rect x="210.20" y="628.35" width="1.67" height="68.85" fill="#E64B35"/>
<rect x="211.87" y="628.35" width="1.67" height="68.85" fill="#4DBBD5"/>
<rect x="213.55" y="626.69" width="1.67" height="70.51" fill="#E64B35"/>
<rect x="215.22" y="626.69" width="1.67" height="70.51" fill="#E64B35"/>
<rect x="216.89" y="626.58" width="1.67" height="70.62" fill="#4DBBD5"/>
<rect x="218.56" y="625.83" width="1.67" height="71.37" fill="#4DBBD5"/>
<rect x="220.23" y="625.45" width="1.67" height="71.75" fill="#4DBBD5"/>
<rect x="221.90" y="625.08" width="1.67" height="72.12" fill="#4DBBD5"/>
<rect x="223.57" y="624.70" width="1.67" height="72.50" fill="#4DBBD5"/>
<rect x="225.24" y="623.53" width="1.67" height="73.67" fill="#F39B7F"/>
<rect x="226.91" y="623.53" width="1.67" height="73.67" fill="#4DBBD5"/>
<rect x="228.58" y="621.93" width="1.67" height="75.27" fill="#4DBBD5"/>
<rect x="230.25" y="621.62" width="1.67" height="75.58" fill="#4DBBD5"/>
<rect x="231.93" y="621.31" width="1.67" height="75.89" fill="#4DBBD5"/>
<rect x="233.60" y="621.00" width="1.67" height="76.20" fill="#4DBBD5"/>
<rect x="235.27" y="620.68" width="1.67" height="76.52" fill="#4DBBD5"/>
<rect x="236.94" y="620.37" width="1.67" height="76.83" fill="#4DBBD5"/>
<rect x="238.61" y="620.06" width="1.67" height="77.14" fill="#4DBBD5"/>
<rect x="240.28" y="619.74" width="1.67" height="77.46" fill="#4DBBD5"/>
<rect x="241.95" y="619.43" width="1.67" height="77.77" fill="#4DBBD5"/>
<rect x="243.62" y="618.37" width="1.67" height="78.83" fill="#E64B35"/>
<rect x="245.29" y="618.33" width="1.67" height="78.87" fill="#4DBBD5"/>
<rect x="246.96" y="617.79" width="1.67" height="79.41" fill="#4DBBD5"/>
<rect x="248.64" y="617.50" width="1.67" height="79.70" fill="#4DBBD5"/>
<rect x="250.31" y="617.22" width="1.67" height="79.98" fill="#4DBBD5"/>
<rect x="251.98" y="616.93" width="1.67" height="80.27" fill="#4DBBD5"/>
<rect x="253.65" y="616.65" width="1.67" height="80.55" fill="#4DBBD5"/>
<rect x="255.32" y="616.37" width="1.67" height="80.83" fill="#4DBBD5"/>
<rect x="256.99" y="616.08" width="1.67" height="81.12" fill="#4DBBD5"/>
<rect x="258.66" y="615.80" width="1.67" height="81.40" fill="#4DBBD5"/>
<rect x="260.33" y="614.68" width="1.67" height="82.52" fill="#E64B35"/>
<rect x="262.00" y="614.63" width="1.67" height="82.57" fill="#4DBBD5"/>
<rect x="263.67" y="614.57" width="1.67" height="82.63" fill="#4DBBD5"/>
<rect x="265.35" y="614.51" width="1.67" height="82.69" fill="#4DBBD5"/>
<rect x="267.02" y="614.46" width="1.67" height="82.74" fill="#4DBBD5"/>
<rect x="268.69" y="614.40" width="1.67" height="82.80" fill="#4DBBD5"/>
<rect x="270.36" y="611.72" width="1.67" height="85.48" fill="#E64B35"/>
<rect x="272.03" y="611.72" width="1.67" height="85.48" fill="#E64B35"/>
<rect x="273.70" y="611.72" width="1.67" height="85.48" fill="#E64B35"/>
<rect x="275.37" y="611.72" width="1.67" height="85.48" fill="#4DBBD5"/>
<rect x="277.04" y="611.72" width="1.67" height="85.48" fill="#4DBBD5"/>
<rect x="278.71" y="611.72" width="1.67" height="85.48" fill="#4DBBD5"/>
<rect x="280.38" y="611.72" width="1.67" height="85.48" fill="#4DBBD5"/>
<rect x="282.05" y="611.72" width="1.67" height="85.48" fill="#4DBBD5"/>
<rect x="283.73" y="611.72" width="1.67" height="85.48" fill="#4DBBD5"/>
<rect x="285.40" y="611.72" width="1.67" height="85.48" fill="#4DBBD5"/>
<rect x="287.07" y="610.06" width="1.67" height="87.14" fill="#4DBBD5"/>
<rect x="288.74" y="610.06" width="1.67" height="87.14" fill="#4DBBD5"/>
<rect x="290.41" y="610.06" width="1.67" height="87.14" fill="#4DBBD5"/>
<rect x="292.08" y="610.06" width="1.67" height="87.14" fill="#4DBBD5"/>
<rect x="293.75" y="608.06" width="1.67" height="89.14" fill="#E64B35"/>
<rect x="295.42" y="608.06" width="1.67" height="89.14" fill="#4DBBD5"/>
<rect x="297.09" y="608.06" width="1.67" height="89.14" fill="#4DBBD5"/>
<rect x="298.76" y="608.06" width="1.67" height="89.14" fill="#4DBBD5"/>
<rect x="300.44" y="606.33" width="1.67" height="90.87" fill="#4DBBD5"/>
<rect x="302.11" y="605.98" width="1.67" height="91.22" fill="#4DBBD5"/>
<rect x="303.78" y="605.64" width="1.67" height="91.56" fill="#4DBBD5"/>
<rect x="305.45" y="605.29" width="1.67" height="91.91" fill="#4DBBD5"/>
<rect x="307.12" y="604.95" width="1.67" height="92.25" fill="#4DBBD5"/>
<rect x="308.79" y="604.61" width="1.67" height="92.59" fill="#4DBBD5"/>
<rect x="310.46" y="601.91" width="1.67" height="95.29" fill="#E64B35"/>
<rect x="312.13" y="600.58" width="1.67" height="96.62" fill="#4DBBD5"/>
<rect x="313.80" y="600.58" width="1.67" height="96.62" fill="#4DBBD5"/>
<rect x="315.47" y="600.58" width="1.67" height="96.62" fill="#4DBBD5"/>
<rect x="317.15" y="600.58" width="1.67" height="96.62" fill="#4DBBD5"/>
<rect x="318.82" y="598.86" width="1.67" height="98.34" fill="#4DBBD5"/>
<rect x="320.49" y="597.25" width="1.67" height="99.95" fill="#4DBBD5"/>
<rect x="322.16" y="597.25" width="1.67" height="99.95" fill="#4DBBD5"/>
<rect x="323.83" y="592.43" width="1.67" height="104.77" fill="#E64B35"/>
<rect x="325.50" y="592.43" width="1.67" height="104.77" fill="#E64B35"/>
<rect x="327.17" y="591.43" width="1.67" height="105.77" fill="#4DBBD5"/>
<rect x="328.84" y="591.43" width="1.67" height="105.77" fill="#4DBBD5"/>
<rect x="330.51" y="591.43" width="1.67" height="105.77" fill="#4DBBD5"/>
<rect x="332.18" y="591.43" width="1.67" height="105.77" fill="#E64B35"/>
<rect x="333.85" y="591.33" width="1.67" height="105.87" fill="#4DBBD5"/>
<rect x="335.53" y="590.75" width="1.67" height="106.45" fill="#4DBBD5"/>
<rect x="337.20" y="590.17" width="1.67" height="107.03" fill="#4DBBD5"/>
<rect x="338.87" y="589.60" width="1.67" height="107.60" fill="#4DBBD5"/>
<rect x="340.54" y="589.02" width="1.67" height="108.18" fill="#4DBBD5"/>
<rect x="342.21" y="587.94" width="1.67" height="109.26" fill="#E64B35"/>
<rect x="343.88" y="587.94" width="1.67" height="109.26" fill="#E64B35"/>
<rect x="345.55" y="583.25" width="1.67" height="113.95" fill="#4DBBD5"/>
<rect x="347.22" y="583.18" width="1.67" height="114.02" fill="#4DBBD5"/>
<rect x="348.89" y="583.11" width="1.67" height="114.09" fill="#4DBBD5"/>
<rect x="350.56" y="583.04" width="1.67" height="114.16" fill="#4DBBD5"/>
<rect x="352.24" y="582.97" width="1.67" height="114.23" fill="#4DBBD5"/>
<rect x="353.91" y="581.36" width="1.67" height="115.84" fill="#4DBBD5"/>
<rect x="355.58" y="581.22" width="1.67" height="115.98" fill="#4DBBD5"/>
<rect x="357.25" y="581.09" width="1.67" height="116.11" fill="#4DBBD5"/>
<rect x="358.92" y="580.95" width="1.67" height="116.25" fill="#4DBBD5"/>
<rect x="360.59" y="580.82" width="1.67" height="116.38" fill="#4DBBD5"/>
<rect x="362.26" y="580.68" width="1.67" height="116.52" fill="#4DBBD5"/>
<rect x="363.93" y="580.55" width="1.67" height="116.65" fill="#4DBBD5"/>
<rect x="365.60" y="580.42" width="1.67" height="116.78" fill="#4DBBD5"/>
<rect x="367.27" y="577.96" width="1.67" height="119.24" fill="#4DBBD5"/>
<rect x="368.95" y="577.96" width="1.67" height="119.24" fill="#4DBBD5"/>
<rect x="370.62" y="577.96" width="1.67" height="119.24" fill="#4DBBD5"/>
<rect x="372.29" y="577.96" width="1.67" height="119.24" fill="#4DBBD5"/>
<rect x="373.96" y="577.96" width="1.67" height="119.24" fill="#E64B35"/>
<rect x="375.63" y="577.33" width="1.67" height="119.87" fill="#4DBBD5"/>
<rect x="377.30" y="576.83" width="1.67" height="120.37" fill="#4DBBD5"/>
<rect x="378.97" y="576.34" width="1.67" height="120.86" fill="#4DBBD5"/>
<rect x="380.64" y="575.85" width="1.67" height="121.35" fill="#4DBBD5"/>
<rect x="382.31" y="575.36" width="1.67" height="121.84" fill="#4DBBD5"/>
<rect x="383.98" y="574.86" width="1.67" height="122.34" fill="#4DBBD5"/>
<rect x="385.66" y="574.37" width="1.67" height="122.83" fill="#4DBBD5"/>
<rect x="387.33" y="573.88" width="1.67" height="123.32" fill="#4DBBD5"/>
<rect x="389.00" y="573.39" width="1.67" height="123.81" fill="#4DBBD5"/>
<rect x="390.67" y="572.89" width="1.67" height="124.31" fill="#4DBBD5"/>
<rect x="392.34" y="571.81" width="1.67" height="125.39" fill="#E64B35"/>
<rect x="394.01" y="571.81" width="1.67" height="125.39" fill="#4DBBD5"/>
<rect x="395.68" y="571.81" width="1.67" height="125.39" fill="#4DBBD5"/>
<rect x="397.35" y="571.81" width="1.67" height="125.39" fill="#00A087"/>
<rect x="399.02" y="570.58" width="1.67" height="126.62" fill="#4DBBD5"/>
<rect x="400.69" y="570.15" width="1.67" height="127.05" fill="#4DBBD5"/>
<rect x="402.36" y="569.72" width="1.67" height="127.48" fill="#4DBBD5"/>
<rect x="404.04" y="569.29" width="1.67" height="127.91" fill="#4DBBD5"/>
<rect x="405.71" y="568.85" width="1.67" height="128.35" fill="#4DBBD5"/>
<rect x="407.38" y="568.42" width="1.67" height="128.78" fill="#4DBBD5"/>
<rect x="409.05" y="567.99" width="1.67" height="129.21" fill="#4DBBD5"/>
<rect x="410.72" y="567.56" width="1.67" height="129.64" fill="#4DBBD5"/>
<rect x="412.39" y="567.13" width="1.67" height="130.07" fill="#4DBBD5"/>
<rect x="414.06" y="566.70" width="1.67" height="130.50" fill="#4DBBD5"/>
<rect x="415.73" y="566.27" width="1.67" height="130.93" fill="#4DBBD5"/>
<rect x="417.40" y="563.49" width="1.67" height="133.71" fill="#E64B35"/>
<rect x="419.07" y="561.59" width="1.67" height="135.61" fill="#4DBBD5"/>
<rect x="420.75" y="560.96" width="1.67" height="136.24" fill="#4DBBD5"/>
<rect x="422.42" y="560.34" width="1.67" height="136.86" fill="#4DBBD5"/>
<rect x="424.09" y="559.72" width="1.67" height="137.48" fill="#4DBBD5"/>
<rect x="425.76" y="558.01" width="1.67" height="139.19" fill="#E64B35"/>
<rect x="427.43" y="558.01" width="1.67" height="139.19" fill="#4DBBD5"/>
<rect x="429.10" y="558.01" width="1.67" height="139.19" fill="#4DBBD5"/>
<rect x="430.77" y="557.61" width="1.67" height="139.59" fill="#4DBBD5"/>
<rect x="432.44" y="557.19" width="1.67" height="140.01" fill="#4DBBD5"/>
<rect x="434.11" y="556.78" width="1.67" height="140.42" fill="#4DBBD5"/>
<rect x="435.78" y="556.36" width="1.67" height="140.84" fill="#4DBBD5"/>
<rect x="437.46" y="555.95" width="1.67" height="141.25" fill="#4DBBD5"/>
<rect x="439.13" y="555.53" width="1.67" height="141.67" fill="#4DBBD5"/>
<rect x="440.80" y="555.11" width="1.67" height="142.09" fill="#4DBBD5"/>
<rect x="442.47" y="554.70" width="1.67" height="142.50" fill="#4DBBD5"/>
<rect x="444.14" y="554.28" width="1.67" height="142.92" fill="#4DBBD5"/>
<rect x="445.81" y="553.87" width="1.67" height="143.33" fill="#4DBBD5"/>
<rect x="447.48" y="553.45" width="1.67" height="143.75" fill="#4DBBD5"/>
<rect x="449.15" y="553.04" width="1.67" height="144.16" fill="#4DBBD5"/>
<rect x="450.82" y="550.19" width="1.67" height="147.01" fill="#E64B35"/>
<rect x="452.49" y="550.19" width="1.67" height="147.01" fill="#E64B35"/>
<rect x="454.16" y="550.19" width="1.67" height="147.01" fill="#4DBBD5"/>
<rect x="455.84" y="550.19" width="1.67" height="147.01" fill="#4DBBD5"/>
<rect x="457.51" y="546.37" width="1.67" height="150.83" fill="#E64B35"/>
<rect x="459.18" y="546.34" width="1.67" height="150.86" fill="#4DBBD5"/>
<rect x="460.85" y="545.91" width="1.67" height="151.29" fill="#4DBBD5"/>
<rect x="462.52" y="545.48" width="1.67" height="151.72" fill="#4DBBD5"/>
<rect x="464.19" y="545.05" width="1.67" height="152.15" fill="#4DBBD5"/>
<rect x="465.86" y="544.63" width="1.67" height="152.57" fill="#4DBBD5"/>
<rect x="467.53" y="543.54" width="1.67" height="153.66" fill="#E64B35"/>
<rect x="469.20" y="543.54" width="1.67" height="153.66" fill="#E64B35"/>
<rect x="470.87" y="543.54" width="1.67" height="153.66" fill="#E64B35"/>
<rect x="472.55" y="541.71" width="1.67" height="155.49" fill="#4DBBD5"/>
<rect x="474.22" y="541.71" width="1.67" height="155.49" fill="#4DBBD5"/>
<rect x="475.89" y="540.05" width="1.67" height="157.15" fill="#E64B35"/>
<rect x="477.56" y="540.05" width="1.67" height="157.15" fill="#4DBBD5"/>
<rect x="479.23" y="540.05" width="1.67" height="157.15" fill="#E64B35"/>
<rect x="480.90" y="537.98" width="1.67" height="159.22" fill="#4DBBD5"/>
<rect x="482.57" y="537.51" width="1.67" height="159.69" fill="#4DBBD5"/>
<rect x="484.24" y="537.04" width="1.67" height="160.16" fill="#4DBBD5"/>
<rect x="485.91" y="536.56" width="1.67" height="160.64" fill="#4DBBD5"/>
<rect x="487.58" y="536.09" width="1.67" height="161.11" fill="#4DBBD5"/>
<rect x="489.26" y="535.62" width="1.67" height="161.58" fill="#4DBBD5"/>
<rect x="490.93" y="534.72" width="1.67" height="162.48" fill="#E64B35"/>
<rect x="492.60" y="533.56" width="1.67" height="163.64" fill="#4DBBD5"/>
<rect x="494.27" y="533.56" width="1.67" height="163.64" fill="#4DBBD5"/>
<rect x="495.94" y="533.56" width="1.67" height="163.64" fill="#4DBBD5"/>
<rect x="497.61" y="532.56" width="1.67" height="164.64" fill="#E64B35"/>
<rect x="499.28" y="532.56" width="1.67" height="164.64" fill="#E64B35"/>
<rect x="500.95" y="530.90" width="1.67" height="166.30" fill="#4DBBD5"/>
<rect x="502.62" y="530.90" width="1.67" height="166.30" fill="#4DBBD5"/>
<rect x="504.29" y="530.90" width="1.67" height="166.30" fill="#4DBBD5"/>
<rect x="505.97" y="530.90" width="1.67" height="166.30" fill="#4DBBD5"/>
<rect x="507.64" y="530.90" width="1.67" height="166.30" fill="#4DBBD5"/>
<rect x="509.31" y="530.90" width="1.67" height="166.30" fill="#4DBBD5"/>
<rect x="510.98" y="530.90" width="1.67" height="166.30" fill="#4DBBD5"/>
<rect x="512.65" y="530.90" width="1.67" height="166.30" fill="#4DBBD5"/>
<rect x="514.32" y="530.90" width="1.67" height="166.30" fill="#4DBBD5"/>
<rect x="515.99" y="530.90" width="1.67" height="166.30" fill="#E64B35"/>
<rect x="517.66" y="530.90" width="1.67" height="166.30" fill="#E64B35"/>
<path d="M28.90 705.8 v2.4 M30.57 705.8 v2.4 M32.24 705.8 v2.4 M33.92 705.8 v2.4 M35.59 705.8 v2.4 M37.26 705.8 v2.4 M38.93 705.8 v2.4 M40.60 705.8 v2.4 M42.27 705.8 v2.4 M43.94 705.8 v2.4 M45.61 705.8 v2.4 M47.28 705.8 v2.4 M48.95 705.8 v2.4 M50.63 705.8 v2.4 M52.30 705.8 v2.4 M53.97 705.8 v2.4 M55.64 705.8 v2.4 M57.31 705.8 v2.4 M58.98 705.8 v2.4 M60.65 705.8 v2.4 M62.32 705.8 v2.4 M63.99 705.8 v2.4 M65.66 705.8 v2.4 M67.33 705.8 v2.4 M69.01 705.8 v2.4 M70.68 705.8 v2.4 M72.35 705.8 v2.4 M74.02 705.8 v2.4 M75.69 705.8 v2.4 M77.36 705.8 v2.4 M79.03 705.8 v2.4 M80.70 705.8 v2.4 M82.37 705.8 v2.4 M84.04 705.8 v2.4 M85.72 705.8 v2.4 M87.39 705.8 v2.4 M89.06 705.8 v2.4 M90.73 705.8 v2.4 M92.40 705.8 v2.4 M94.07 705.8 v2.4 M95.74 705.8 v2.4 M97.41 705.8 v2.4 M99.08 705.8 v2.4 M100.75 705.8 v2.4 M102.43 705.8 v2.4 M104.10 705.8 v2.4 M105.77 705.8 v2.4 M107.44 705.8 v2.4 M109.11 705.8 v2.4 M110.78 705.8 v2.4 M112.45 705.8 v2.4 M114.12 705.8 v2.4 M115.79 705.8 v2.4 M117.46 705.8 v2.4 M119.14 705.8 v2.4 M120.81 705.8 v2.4 M122.48 705.8 v2.4 M124.15 705.8 v2.4 M125.82 705.8 v2.4 M127.49 705.8 v2.4 M129.16 705.8 v2.4 M130.83 705.8 v2.4 M132.50 705.8 v2.4 M134.17 705.8 v2.4 M135.84 705.8 v2.4 M137.52 705.8 v2.4 M139.19 705.8 v2.4 M140.86 705.8 v2.4 M142.53 705.8 v2.4 M144.20 705.8 v2.4 M145.87 705.8 v2.4 M147.54 705.8 v2.4 M149.21 705.8 v2.4 M150.88 705.8 v2.4 M152.55 705.8 v2.4 M154.23 705.8 v2.4 M155.90 705.8 v2.4 M157.57 705.8 v2.4 M159.24 705.8 v2.4 M160.91 705.8 v2.4 M162.58 705.8 v2.4 M164.25 705.8 v2.4 M165.92 705.8 v2.4 M167.59 705.8 v2.4 M169.26 705.8 v2.4 M170.94 705.8 v2.4 M172.61 705.8 v2.4 M174.28 705.8 v2.4 M175.95 705.8 v2.4 M177.62 705.8 v2.4 M179.29 705.8 v2.4 M180.96 705.8 v2.4 M182.63 705.8 v2.4 M184.30 705.8 v2.4 M185.97 705.8 v2.4 M187.64 705.8 v2.4 M189.32 705.8 v2.4 M190.99 705.8 v2.4 M192.66 705.8 v2.4 M194.33 705.8 v2.4 M196.00 705.8 v2.4 M197.67 705.8 v2.4 M199.34 705.8 v2.4 M201.01 705.8 v2.4 M202.68 705.8 v2.4 M204.35 705.8 v2.4 M206.03 705.8 v2.4 M207.70 705.8 v2.4 M209.37 705.8 v2.4 M211.04 705.8 v2.4 M212.71 705.8 v2.4 M214.38 705.8 v2.4 M216.05 705.8 v2.4 M217.72 705.8 v2.4 M219.39 705.8 v2.4 M221.06 705.8 v2.4 M222.74 705.8 v2.4 M224.41 705.8 v2.4 M226.08 705.8 v2.4 M227.75 705.8 v2.4 M229.42 705.8 v2.4 M231.09 705.8 v2.4 M232.76 705.8 v2.4 M234.43 705.8 v2.4 M236.10 705.8 v2.4 M237.77 705.8 v2.4 M239.45 705.8 v2.4 M241.12 705.8 v2.4 M242.79 705.8 v2.4 M244.46 705.8 v2.4 M246.13 705.8 v2.4 M247.80 705.8 v2.4 M249.47 705.8 v2.4 M251.14 705.8 v2.4 M252.81 705.8 v2.4 M254.48 705.8 v2.4 M256.15 705.8 v2.4 M257.83 705.8 v2.4 M259.50 705.8 v2.4 M261.17 705.8 v2.4 M262.84 705.8 v2.4 M264.51 705.8 v2.4 M266.18 705.8 v2.4 M267.85 705.8 v2.4 M269.52 705.8 v2.4 M271.19 705.8 v2.4 M272.86 705.8 v2.4 M274.54 705.8 v2.4 M276.21 705.8 v2.4 M277.88 705.8 v2.4 M279.55 705.8 v2.4 M281.22 705.8 v2.4 M282.89 705.8 v2.4 M284.56 705.8 v2.4 M286.23 705.8 v2.4 M287.90 705.8 v2.4 M289.57 705.8 v2.4 M291.25 705.8 v2.4 M292.92 705.8 v2.4 M294.59 705.8 v2.4 M296.26 705.8 v2.4 M297.93 705.8 v2.4 M299.60 705.8 v2.4 M301.27 705.8 v2.4 M302.94 705.8 v2.4 M304.61 705.8 v2.4 M306.28 705.8 v2.4 M307.95 705.8 v2.4 M309.63 705.8 v2.4 M311.30 705.8 v2.4 M312.97 705.8 v2.4 M314.64 705.8 v2.4 M316.31 705.8 v2.4 M317.98 705.8 v2.4 M319.65 705.8 v2.4 M321.32 705.8 v2.4 M322.99 705.8 v2.4 M324.66 705.8 v2.4 M326.34 705.8 v2.4 M328.01 705.8 v2.4 M329.68 705.8 v2.4 M331.35 705.8 v2.4 M333.02 705.8 v2.4 M334.69 705.8 v2.4 M336.36 705.8 v2.4 M338.03 705.8 v2.4 M339.70 705.8 v2.4 M341.37 705.8 v2.4 M343.05 705.8 v2.4 M344.72 705.8 v2.4 M346.39 705.8 v2.4 M348.06 705.8 v2.4 M349.73 705.8 v2.4 M351.40 705.8 v2.4 M353.07 705.8 v2.4 M354.74 705.8 v2.4 M356.41 705.8 v2.4 M358.08 705.8 v2.4 M359.76 705.8 v2.4 M361.43 705.8 v2.4 M363.10 705.8 v2.4 M364.77 705.8 v2.4 M366.44 705.8 v2.4 M368.11 705.8 v2.4 M369.78 705.8 v2.4 M371.45 705.8 v2.4 M373.12 705.8 v2.4 M374.79 705.8 v2.4 M376.46 705.8 v2.4 M378.14 705.8 v2.4 M379.81 705.8 v2.4 M381.48 705.8 v2.4 M383.15 705.8 v2.4 M384.82 705.8 v2.4 M386.49 705.8 v2.4 M388.16 705.8 v2.4 M389.83 705.8 v2.4 M391.50 705.8 v2.4 M393.17 705.8 v2.4 M394.85 705.8 v2.4 M396.52 705.8 v2.4 M398.19 705.8 v2.4 M399.86 705.8 v2.4 M401.53 705.8 v2.4 M403.20 705.8 v2.4 M404.87 705.8 v2.4 M406.54 705.8 v2.4 M408.21 705.8 v2.4 M409.88 705.8 v2.4 M411.56 705.8 v2.4 M413.23 705.8 v2.4 M414.90 705.8 v2.4 M416.57 705.8 v2.4 M418.24 705.8 v2.4 M419.91 705.8 v2.4 M421.58 705.8 v2.4 M423.25 705.8 v2.4 M424.92 705.8 v2.4 M426.59 705.8 v2.4 M428.26 705.8 v2.4 M429.94 705.8 v2.4 M431.61 705.8 v2.4 M433.28 705.8 v2.4 M434.95 705.8 v2.4 M436.62 705.8 v2.4 M438.29 705.8 v2.4 M439.96 705.8 v2.4 M441.63 705.8 v2.4 M443.30 705.8 v2.4 M444.97 705.8 v2.4 M446.65 705.8 v2.4 M448.32 705.8 v2.4 M449.99 705.8 v2.4 M451.66 705.8 v2.4 M453.33 705.8 v2.4 M455.00 705.8 v2.4 M456.67 705.8 v2.4 M458.34 705.8 v2.4 M460.01 705.8 v2.4 M461.68 705.8 v2.4 M463.36 705.8 v2.4 M465.03 705.8 v2.4 M466.70 705.8 v2.4 M468.37 705.8 v2.4 M470.04 705.8 v2.4 M471.71 705.8 v2.4 M473.38 705.8 v2.4 M475.05 705.8 v2.4 M476.72 705.8 v2.4 M478.39 705.8 v2.4 M480.07 705.8 v2.4 M481.74 705.8 v2.4 M483.41 705.8 v2.4 M485.08 705.8 v2.4 M486.75 705.8 v2.4 M488.42 705.8 v2.4 M490.09 705.8 v2.4 M491.76 705.8 v2.4 M493.43 705.8 v2.4 M495.10 705.8 v2.4 M496.77 705.8 v2.4 M498.45 705.8 v2.4 M500.12 705.8 v2.4 M501.79 705.8 v2.4 M503.46 705.8 v2.4 M505.13 705.8 v2.4 M506.80 705.8 v2.4 M508.47 705.8 v2.4 M510.14 705.8 v2.4 M511.81 705.8 v2.4 M513.48 705.8 v2.4 M515.16 705.8 v2.4 M516.83 705.8 v2.4 M518.50 705.8 v2.4" stroke="#222" stroke-width="0.85" fill="none"/>
<rect x="27.90" y="522.20" width="491.60" height="183.60" fill="none" stroke="#3a3a3a" stroke-width="1.1"/>
<line x1="25.5" x2="27.9" y1="697.20" y2="697.20" stroke="#333" stroke-width="0.8"/>
<text x="23.40" y="699.70" font-size="6.9" text-anchor="end" fill="#333" stroke="#333" stroke-width="0.2">0</text>
<line x1="25.5" x2="27.9" y1="655.62" y2="655.62" stroke="#333" stroke-width="0.8"/>
<text x="23.40" y="658.12" font-size="6.9" text-anchor="end" fill="#333" stroke="#333" stroke-width="0.2">25</text>
<line x1="25.5" x2="27.9" y1="614.05" y2="614.05" stroke="#333" stroke-width="0.8"/>
<text x="23.40" y="616.55" font-size="6.9" text-anchor="end" fill="#333" stroke="#333" stroke-width="0.2">50</text>
<line x1="25.5" x2="27.9" y1="572.48" y2="572.48" stroke="#333" stroke-width="0.8"/>
<text x="23.40" y="574.98" font-size="6.9" text-anchor="end" fill="#333" stroke="#333" stroke-width="0.2">75</text>
<line x1="25.5" x2="27.9" y1="530.90" y2="530.90" stroke="#333" stroke-width="0.8"/>
<text x="23.40" y="533.40" font-size="6.9" text-anchor="end" fill="#333" stroke="#333" stroke-width="0.2">100</text>
<text x="267.00" y="544.70" font-size="8.3" text-anchor="middle" font-weight="bold" fill="#000" stroke="#000" stroke-width="0.2">Sequences in reversion mutant alleles</text>
<text x="274.20" y="715.00" font-size="7.5" text-anchor="middle" stroke="#222" stroke-width="0.2">Reversion mutation</text>
<text transform="translate(6.7 612.8) rotate(-90)" text-anchor="middle" font-size="7.4" stroke="#222" stroke-width="0.2">% individuals predicted to present ≥ 1 neopeptide</text>
<rect x="44.20" y="539.80" width="47.10" height="74.40" fill="#fff" stroke="#a6a6a6" stroke-width="0.8"/>
<text x="48.10" y="549.80" font-size="7.5" stroke="#222" stroke-width="0.2">Gene</text>
<rect x="48.50" y="554.60" width="10.70" height="10.00" fill="#E64B35"/>
<text x="62.50" y="561.90" font-size="6.4" font-style="italic" stroke="#222" stroke-width="0.2">BRCA1</text>
<rect x="48.50" y="566.15" width="10.70" height="10.00" fill="#4DBBD5"/>
<text x="62.50" y="573.45" font-size="6.4" font-style="italic" stroke="#222" stroke-width="0.2">BRCA2</text>
<rect x="48.50" y="577.70" width="10.70" height="10.00" fill="#00A087"/>
<text x="62.50" y="585.00" font-size="6.4" font-style="italic" stroke="#222" stroke-width="0.2">PALB2</text>
<rect x="48.50" y="589.25" width="10.70" height="10.00" fill="#3C5488"/>
<text x="62.50" y="596.55" font-size="6.4" font-style="italic" stroke="#222" stroke-width="0.2">RAD51C</text>
<rect x="48.50" y="600.80" width="10.70" height="10.00" fill="#F39B7F"/>
<text x="62.50" y="608.10" font-size="6.4" font-style="italic" stroke="#222" stroke-width="0.2">RAD51D</text>
<text x="232.40" y="608.80" font-size="6.6" stroke="#222" stroke-width="0.2">Median: 52%</text>
</svg>
</body></html>
